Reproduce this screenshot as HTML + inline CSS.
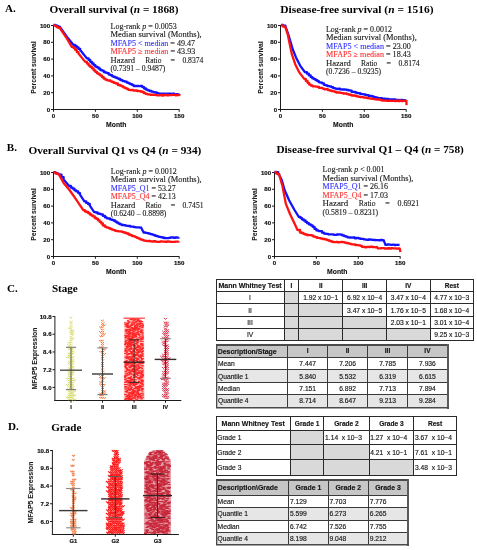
<!DOCTYPE html>
<html><head><meta charset="utf-8"><title>MFAP5 survival figure</title>
<style>
html,body{margin:0;padding:0;background:#fff;}
body{width:477px;height:550px;overflow:hidden;position:relative;font-family:"Liberation Sans", sans-serif;}
svg{position:absolute;left:0;top:0;display:block;will-change:transform;}
</style></head><body>
<svg width="477" height="550" viewBox="0 0 477 550">
<line x1="53.50" y1="25.00" x2="53.50" y2="110.00" stroke="#1c1c1c" stroke-width="1"/>
<line x1="51.00" y1="109.50" x2="53.50" y2="109.50" stroke="#1c1c1c" stroke-width="1"/>
<text x="50.10" y="111.60" font-family="'Liberation Sans', sans-serif" font-size="6.1" font-weight="bold" text-anchor="end" fill="#111" stroke="#111" stroke-width="0.18">0</text>
<line x1="51.00" y1="92.70" x2="53.50" y2="92.70" stroke="#1c1c1c" stroke-width="1"/>
<text x="50.10" y="94.80" font-family="'Liberation Sans', sans-serif" font-size="6.1" font-weight="bold" text-anchor="end" fill="#111" stroke="#111" stroke-width="0.18">20</text>
<line x1="51.00" y1="75.90" x2="53.50" y2="75.90" stroke="#1c1c1c" stroke-width="1"/>
<text x="50.10" y="78.00" font-family="'Liberation Sans', sans-serif" font-size="6.1" font-weight="bold" text-anchor="end" fill="#111" stroke="#111" stroke-width="0.18">40</text>
<line x1="51.00" y1="59.10" x2="53.50" y2="59.10" stroke="#1c1c1c" stroke-width="1"/>
<text x="50.10" y="61.20" font-family="'Liberation Sans', sans-serif" font-size="6.1" font-weight="bold" text-anchor="end" fill="#111" stroke="#111" stroke-width="0.18">60</text>
<line x1="51.00" y1="42.30" x2="53.50" y2="42.30" stroke="#1c1c1c" stroke-width="1"/>
<text x="50.10" y="44.40" font-family="'Liberation Sans', sans-serif" font-size="6.1" font-weight="bold" text-anchor="end" fill="#111" stroke="#111" stroke-width="0.18">80</text>
<line x1="51.00" y1="25.50" x2="53.50" y2="25.50" stroke="#1c1c1c" stroke-width="1"/>
<text x="50.10" y="27.60" font-family="'Liberation Sans', sans-serif" font-size="6.1" font-weight="bold" text-anchor="end" fill="#111" stroke="#111" stroke-width="0.18">100</text>
<line x1="53.00" y1="109.50" x2="179.40" y2="109.50" stroke="#1c1c1c" stroke-width="1"/>
<line x1="53.50" y1="109.50" x2="53.50" y2="111.80" stroke="#1c1c1c" stroke-width="1"/>
<text x="53.50" y="118.40" font-family="'Liberation Sans', sans-serif" font-size="6.1" font-weight="bold" text-anchor="middle" fill="#111" stroke="#111" stroke-width="0.18">0</text>
<line x1="95.40" y1="109.50" x2="95.40" y2="111.80" stroke="#1c1c1c" stroke-width="1"/>
<text x="95.40" y="118.40" font-family="'Liberation Sans', sans-serif" font-size="6.1" font-weight="bold" text-anchor="middle" fill="#111" stroke="#111" stroke-width="0.18">50</text>
<line x1="137.30" y1="109.50" x2="137.30" y2="111.80" stroke="#1c1c1c" stroke-width="1"/>
<text x="137.30" y="118.40" font-family="'Liberation Sans', sans-serif" font-size="6.1" font-weight="bold" text-anchor="middle" fill="#111" stroke="#111" stroke-width="0.18">100</text>
<line x1="179.20" y1="109.50" x2="179.20" y2="111.80" stroke="#1c1c1c" stroke-width="1"/>
<text x="179.20" y="118.40" font-family="'Liberation Sans', sans-serif" font-size="6.1" font-weight="bold" text-anchor="middle" fill="#111" stroke="#111" stroke-width="0.18">150</text>
<text x="116.30" y="127.30" font-family="'Liberation Sans', sans-serif" font-size="6.8" font-weight="bold" text-anchor="middle" fill="#111" stroke="#111" stroke-width="0.12">Month</text>
<text x="36.40" y="67.50" font-family="'Liberation Sans', sans-serif" font-size="6.8" font-weight="bold" text-anchor="middle" fill="#1a1a1a" stroke="#1a1a1a" stroke-width="0.08" transform="rotate(-90 36.40 67.50)">Percent survival</text>
<polyline points="53.5,25.0 55.1,25.0 55.1,25.5 56.8,25.5 56.8,26.2 58.4,26.2 58.4,27.0 60.0,27.0 60.0,27.3 66.8,36.6 73.5,45.0 75.2,45.0 75.2,46.2 76.8,46.2 76.8,47.5 78.5,47.5 78.5,48.8 80.2,48.8 80.2,50.0 86.9,58.4 88.6,58.4 88.6,59.9 90.2,59.9 90.2,61.8 91.9,61.8 91.9,63.5 93.6,63.5 93.6,65.1 95.3,65.1 95.3,66.6 96.9,66.6 96.9,67.3 98.6,67.3 98.6,68.7 100.3,68.7 100.3,70.1 102.0,70.1 102.0,70.6 103.7,70.6 103.7,72.0 105.3,72.0 105.3,72.7 107.0,72.7 107.0,73.1 108.7,73.1 108.7,74.6 110.4,74.6 110.4,75.1 112.1,75.1 112.1,76.3 113.7,76.3 113.7,76.9 115.4,76.9 115.4,77.7 117.1,77.7 117.1,78.3 118.7,78.3 118.7,79.0 120.4,79.0 120.4,80.2 122.5,80.2 122.5,81.1 124.7,81.1 124.7,81.6 126.8,81.6 126.8,82.7 128.5,82.7 128.5,83.3 130.2,83.3 130.2,84.2 131.9,84.2 131.9,84.9 133.6,84.9 133.6,86.1 135.3,86.1 135.3,86.0 137.0,86.0 137.0,86.0 138.7,86.0 138.7,86.2 140.4,86.2 140.4,85.9 142.2,85.9 142.2,87.1 144.1,87.1 144.1,88.5 145.9,88.5 145.9,89.6 147.7,89.6 147.7,90.3 149.5,90.3 149.5,91.0 151.3,91.0 151.3,91.6 153.1,91.6 153.1,92.1 155.0,92.1 155.0,92.5 156.8,92.5 156.8,93.2 158.5,93.2 158.5,93.6 160.2,93.6 160.2,93.7 161.9,93.7 161.9,93.7 163.6,93.7 163.6,93.6 165.4,93.6 165.4,93.8 167.1,93.8 167.1,93.6 168.9,93.6 168.9,93.6 170.7,93.6 170.7,93.8 172.4,93.8 172.4,93.7 174.2,93.7 174.2,94.3 176.0,94.3 176.0,94.1 177.7,94.1 177.7,94.5 179.5,94.5 179.5,94.3" fill="none" stroke="#1212ff" stroke-width="2.3" stroke-linejoin="round" stroke-linecap="butt"/>
<polyline points="53.5,25.4 55.1,25.4 55.1,26.1 56.8,26.1 56.8,27.2 58.4,27.2 58.4,27.9 60.0,27.9 60.0,28.4 66.8,38.4 71.8,46.8 73.5,46.8 73.5,48.1 75.2,48.1 75.2,49.9 76.8,49.9 76.8,52.1 78.5,52.1 78.5,53.5 85.2,61.9 86.9,61.9 86.9,63.6 88.6,63.6 88.6,65.6 90.2,65.6 90.2,66.9 91.9,66.9 91.9,68.3 93.6,68.3 93.6,70.3 95.3,70.3 95.3,71.8 97.0,71.8 97.0,73.3 98.7,73.3 98.7,74.3 100.3,74.3 100.3,75.6 102.0,75.6 102.0,77.2 103.7,77.2 103.7,78.7 105.4,78.7 105.4,79.7 107.0,79.7 107.0,80.3 108.7,80.3 108.7,80.5 110.4,80.5 110.4,81.3 112.0,81.3 112.0,81.9 113.7,81.9 113.7,82.9 115.8,82.9 115.8,83.5 117.9,83.5 117.9,85.0 120.0,85.0 120.0,85.7 121.6,85.7 121.6,86.3 123.3,86.3 123.3,87.4 124.9,87.4 124.9,88.1 126.6,88.1 126.6,88.8 128.2,88.8 128.2,89.8 129.9,89.8 129.9,90.2 131.7,90.2 131.7,90.0 133.4,90.0 133.4,90.6 135.2,90.6 135.2,90.5 136.9,90.5 136.9,91.0 138.7,91.0 138.7,91.1 140.4,91.1 140.4,91.5 142.1,91.5 142.1,92.0 143.8,92.0 143.8,93.2 145.5,93.2 145.5,93.8 147.2,93.8 147.2,94.3 148.8,94.3 148.8,94.3 150.5,94.3 150.5,94.9 152.1,94.9 152.1,94.6 153.8,94.6 153.8,94.9 155.4,94.9 155.4,95.2 157.1,95.2 157.1,95.4 158.7,95.4 158.7,95.3 160.4,95.3 160.4,94.9 162.0,94.9 162.0,95.5 163.7,95.5 163.7,95.0 165.3,95.0 165.3,95.0 167.0,95.0 167.0,95.4 168.7,95.4 168.7,95.1 170.3,95.1 170.3,95.1 172.0,95.1 172.0,94.9 173.6,94.9 173.6,94.9 175.3,94.9 175.3,95.3 176.9,95.3 176.9,95.0 178.6,95.0 178.6,95.2 179.5,95.2 179.5,95.6" fill="none" stroke="#ff1212" stroke-width="2.3" stroke-linejoin="round" stroke-linecap="butt"/>
<text x="110.50" y="28.60" font-family="'Liberation Serif', serif" font-size="7.9" stroke-width="0.12" textLength="66.30" lengthAdjust="spacingAndGlyphs"><tspan fill="#1a1a1a" stroke="#1a1a1a">Log-rank </tspan><tspan fill="#1a1a1a" stroke="#1a1a1a" font-style="italic">p</tspan><tspan fill="#1a1a1a" stroke="#1a1a1a"> = 0.0053</tspan></text>
<text x="110.50" y="37.20" font-family="'Liberation Serif', serif" font-size="7.9" stroke-width="0.12" textLength="91.10" lengthAdjust="spacingAndGlyphs"><tspan fill="#1a1a1a" stroke="#1a1a1a">Median survival (Months),</tspan></text>
<text x="110.50" y="45.80" font-family="'Liberation Serif', serif" font-size="7.9" stroke-width="0.12" textLength="84.60" lengthAdjust="spacingAndGlyphs"><tspan fill="#3535ff" stroke="#3535ff">MFAP5 &lt; median</tspan><tspan fill="#1a1a1a" stroke="#1a1a1a"> = 49.47</tspan></text>
<text x="110.50" y="54.30" font-family="'Liberation Serif', serif" font-size="7.9" stroke-width="0.12" textLength="84.80" lengthAdjust="spacingAndGlyphs"><tspan fill="#ff3535" stroke="#ff3535">MFAP5 ≥ median</tspan><tspan fill="#1a1a1a" stroke="#1a1a1a"> = 43.93</tspan></text>
<text x="110.50" y="62.80" font-family="'Liberation Serif', serif" font-size="7.9" fill="#1a1a1a" stroke="#1a1a1a" stroke-width="0.12" textLength="24.62" lengthAdjust="spacingAndGlyphs">Hazard</text>
<text x="145.24" y="62.80" font-family="'Liberation Serif', serif" font-size="7.9" fill="#1a1a1a" stroke="#1a1a1a" stroke-width="0.12" textLength="16.16" lengthAdjust="spacingAndGlyphs">Ratio</text>
<text x="172.74" y="62.80" font-family="'Liberation Serif', serif" font-size="7.9" font-weight="normal" text-anchor="middle" fill="#1a1a1a" stroke="#1a1a1a" stroke-width="0.12">=</text>
<text x="182.40" y="62.80" font-family="'Liberation Serif', serif" font-size="7.9" fill="#1a1a1a" stroke="#1a1a1a" stroke-width="0.12" textLength="21.00" lengthAdjust="spacingAndGlyphs">0.8374</text>
<text x="110.50" y="71.30" font-family="'Liberation Serif', serif" font-size="7.9" stroke-width="0.12" textLength="54.80" lengthAdjust="spacingAndGlyphs"><tspan fill="#1a1a1a" stroke="#1a1a1a">(0.7391 – 0.9487)</tspan></text>
<line x1="280.50" y1="25.00" x2="280.50" y2="110.00" stroke="#1c1c1c" stroke-width="1"/>
<line x1="278.00" y1="109.50" x2="280.50" y2="109.50" stroke="#1c1c1c" stroke-width="1"/>
<text x="277.10" y="111.60" font-family="'Liberation Sans', sans-serif" font-size="6.1" font-weight="bold" text-anchor="end" fill="#111" stroke="#111" stroke-width="0.18">0</text>
<line x1="278.00" y1="92.70" x2="280.50" y2="92.70" stroke="#1c1c1c" stroke-width="1"/>
<text x="277.10" y="94.80" font-family="'Liberation Sans', sans-serif" font-size="6.1" font-weight="bold" text-anchor="end" fill="#111" stroke="#111" stroke-width="0.18">20</text>
<line x1="278.00" y1="75.90" x2="280.50" y2="75.90" stroke="#1c1c1c" stroke-width="1"/>
<text x="277.10" y="78.00" font-family="'Liberation Sans', sans-serif" font-size="6.1" font-weight="bold" text-anchor="end" fill="#111" stroke="#111" stroke-width="0.18">40</text>
<line x1="278.00" y1="59.10" x2="280.50" y2="59.10" stroke="#1c1c1c" stroke-width="1"/>
<text x="277.10" y="61.20" font-family="'Liberation Sans', sans-serif" font-size="6.1" font-weight="bold" text-anchor="end" fill="#111" stroke="#111" stroke-width="0.18">60</text>
<line x1="278.00" y1="42.30" x2="280.50" y2="42.30" stroke="#1c1c1c" stroke-width="1"/>
<text x="277.10" y="44.40" font-family="'Liberation Sans', sans-serif" font-size="6.1" font-weight="bold" text-anchor="end" fill="#111" stroke="#111" stroke-width="0.18">80</text>
<line x1="278.00" y1="25.50" x2="280.50" y2="25.50" stroke="#1c1c1c" stroke-width="1"/>
<text x="277.10" y="27.60" font-family="'Liberation Sans', sans-serif" font-size="6.1" font-weight="bold" text-anchor="end" fill="#111" stroke="#111" stroke-width="0.18">100</text>
<line x1="280.00" y1="109.50" x2="406.40" y2="109.50" stroke="#1c1c1c" stroke-width="1"/>
<line x1="280.50" y1="109.50" x2="280.50" y2="111.80" stroke="#1c1c1c" stroke-width="1"/>
<text x="280.50" y="118.40" font-family="'Liberation Sans', sans-serif" font-size="6.1" font-weight="bold" text-anchor="middle" fill="#111" stroke="#111" stroke-width="0.18">0</text>
<line x1="322.40" y1="109.50" x2="322.40" y2="111.80" stroke="#1c1c1c" stroke-width="1"/>
<text x="322.40" y="118.40" font-family="'Liberation Sans', sans-serif" font-size="6.1" font-weight="bold" text-anchor="middle" fill="#111" stroke="#111" stroke-width="0.18">50</text>
<line x1="364.30" y1="109.50" x2="364.30" y2="111.80" stroke="#1c1c1c" stroke-width="1"/>
<text x="364.30" y="118.40" font-family="'Liberation Sans', sans-serif" font-size="6.1" font-weight="bold" text-anchor="middle" fill="#111" stroke="#111" stroke-width="0.18">100</text>
<line x1="406.20" y1="109.50" x2="406.20" y2="111.80" stroke="#1c1c1c" stroke-width="1"/>
<text x="406.20" y="118.40" font-family="'Liberation Sans', sans-serif" font-size="6.1" font-weight="bold" text-anchor="middle" fill="#111" stroke="#111" stroke-width="0.18">150</text>
<text x="343.30" y="127.30" font-family="'Liberation Sans', sans-serif" font-size="6.8" font-weight="bold" text-anchor="middle" fill="#111" stroke="#111" stroke-width="0.12">Month</text>
<text x="263.40" y="67.50" font-family="'Liberation Sans', sans-serif" font-size="6.8" font-weight="bold" text-anchor="middle" fill="#1a1a1a" stroke="#1a1a1a" stroke-width="0.08" transform="rotate(-90 263.40 67.50)">Percent survival</text>
<polyline points="280.9,25.0 283.1,25.0 283.1,25.7 285.4,25.7 285.4,26.3 287.8,32.9 290.3,41.1 292.7,49.3 296.0,57.4 300.1,65.6 305.0,72.2 306.9,72.2 306.9,73.7 308.8,73.7 308.8,75.4 310.7,75.4 310.7,77.1 312.4,77.1 312.4,78.4 314.0,78.4 314.0,79.1 315.6,79.1 315.6,80.2 317.3,80.2 317.3,81.2 318.9,81.2 318.9,82.3 320.6,82.3 320.6,82.6 322.2,82.6 322.2,83.4 323.9,83.4 323.9,84.8 325.5,84.8 325.5,85.3 327.4,85.3 327.4,86.2 329.3,86.2 329.3,86.4 331.2,86.4 331.2,87.1 333.1,87.1 333.1,88.1 335.0,88.1 335.0,88.6 336.7,88.6 336.7,89.1 338.3,89.1 338.3,88.7 340.0,88.7 340.0,89.4 341.7,89.4 341.7,89.5 343.3,89.5 343.3,89.5 345.0,89.5 345.0,89.6 346.7,89.6 346.7,90.0 348.4,90.0 348.4,90.3 350.1,90.3 350.1,90.7 351.7,90.7 351.7,91.9 353.4,91.9 353.4,91.8 355.1,91.8 355.1,92.5 356.8,92.5 356.8,93.1 358.5,93.1 358.5,93.2 360.1,93.2 360.1,94.0 361.8,94.0 361.8,94.2 363.5,94.2 363.5,94.4 365.2,94.4 365.2,95.0 366.9,95.0 366.9,95.2 368.6,95.2 368.6,96.0 370.2,96.0 370.2,95.9 371.9,95.9 371.9,96.5 373.6,96.5 373.6,97.1 375.3,97.1 375.3,97.5 377.0,97.5 377.0,98.0 378.6,98.0 378.6,98.1 380.3,98.1 380.3,98.2 382.0,98.2 382.0,98.9 383.6,98.9 383.6,98.7 385.3,98.7 385.3,99.2 387.0,99.2 387.0,99.0 388.6,99.0 388.6,99.3 390.3,99.3 390.3,99.5 392.0,99.5 392.0,99.3 393.7,99.3 393.7,99.5 395.3,99.5 395.3,99.8 397.0,99.8 397.0,100.0 398.9,100.0 398.9,100.1 400.7,100.1 400.7,99.9 402.6,99.9 402.6,100.1 404.4,100.1 404.4,100.5 406.3,100.5 406.3,100.3" fill="none" stroke="#1212ff" stroke-width="2.3" stroke-linejoin="round" stroke-linecap="butt"/>
<polyline points="280.9,25.4 283.1,25.4 283.1,26.7 285.4,26.7 285.4,27.4 287.8,34.7 289.8,44.5 291.9,54.4 295.2,64.2 299.3,72.4 304.2,78.9 305.8,78.9 305.8,80.9 307.5,80.9 307.5,82.8 309.1,82.8 309.1,84.6 310.8,84.6 310.8,85.5 312.4,85.5 312.4,86.3 314.0,86.3 314.0,86.4 315.7,86.4 315.7,86.6 317.3,86.6 317.3,86.9 319.0,86.9 319.0,87.9 320.6,87.9 320.6,87.9 322.4,87.9 322.4,88.6 324.2,88.6 324.2,89.3 326.0,89.3 326.0,89.1 327.8,89.1 327.8,90.1 329.6,90.1 329.6,90.5 331.4,90.5 331.4,91.2 333.2,91.2 333.2,91.4 335.0,91.4 335.0,92.1 336.7,92.1 336.7,92.7 338.3,92.7 338.3,92.3 340.0,92.3 340.0,92.8 341.7,92.8 341.7,93.2 343.3,93.2 343.3,93.5 345.0,93.5 345.0,93.5 346.7,93.5 346.7,94.1 348.4,94.1 348.4,94.5 350.1,94.5 350.1,95.0 351.7,95.0 351.7,95.5 353.4,95.5 353.4,95.5 355.1,95.5 355.1,96.0 356.8,96.0 356.8,96.4 358.5,96.4 358.5,96.8 360.1,96.8 360.1,97.1 361.8,97.1 361.8,97.1 363.5,97.1 363.5,97.6 365.2,97.6 365.2,97.7 366.9,97.7 366.9,98.2 368.6,98.2 368.6,98.3 370.2,98.3 370.2,98.6 371.9,98.6 371.9,98.8 373.6,98.8 373.6,99.2 375.3,99.2 375.3,99.4 377.0,99.4 377.0,99.7 378.6,99.7 378.6,99.5 380.3,99.5 380.3,100.1 382.0,100.1 382.0,100.6 383.6,100.6 383.6,100.7 385.3,100.7 385.3,100.7 386.9,100.7 386.9,100.9 388.5,100.9 388.5,100.7 390.1,100.7 390.1,100.9 391.8,100.9 391.8,100.8 393.4,100.8 393.4,100.8 395.0,100.8 395.0,101.1 396.6,101.1 396.6,100.6 398.2,100.6 398.2,101.1 399.8,101.1 399.8,100.6 401.5,100.6 401.5,101.0 403.1,101.0 403.1,100.9 404.7,100.9 404.7,100.8 406.3,100.8 406.3,101.0 406.6,105.2" fill="none" stroke="#ff1212" stroke-width="2.3" stroke-linejoin="round" stroke-linecap="butt"/>
<text x="326.00" y="31.80" font-family="'Liberation Serif', serif" font-size="7.9" stroke-width="0.12" textLength="66.00" lengthAdjust="spacingAndGlyphs"><tspan fill="#1a1a1a" stroke="#1a1a1a">Log-rank </tspan><tspan fill="#1a1a1a" stroke="#1a1a1a" font-style="italic">p</tspan><tspan fill="#1a1a1a" stroke="#1a1a1a"> = 0.0012</tspan></text>
<text x="326.00" y="40.30" font-family="'Liberation Serif', serif" font-size="7.9" stroke-width="0.12" textLength="90.80" lengthAdjust="spacingAndGlyphs"><tspan fill="#1a1a1a" stroke="#1a1a1a">Median survival (Months),</tspan></text>
<text x="326.00" y="48.80" font-family="'Liberation Serif', serif" font-size="7.9" stroke-width="0.12" textLength="84.90" lengthAdjust="spacingAndGlyphs"><tspan fill="#3535ff" stroke="#3535ff">MFAP5 &lt; median</tspan><tspan fill="#1a1a1a" stroke="#1a1a1a"> = 23.00</tspan></text>
<text x="326.00" y="57.20" font-family="'Liberation Serif', serif" font-size="7.9" stroke-width="0.12" textLength="84.90" lengthAdjust="spacingAndGlyphs"><tspan fill="#ff3535" stroke="#ff3535">MFAP5 ≥ median</tspan><tspan fill="#1a1a1a" stroke="#1a1a1a"> = 18.43</tspan></text>
<text x="326.00" y="65.70" font-family="'Liberation Serif', serif" font-size="7.9" fill="#1a1a1a" stroke="#1a1a1a" stroke-width="0.12" textLength="24.83" lengthAdjust="spacingAndGlyphs">Hazard</text>
<text x="361.04" y="65.70" font-family="'Liberation Serif', serif" font-size="7.9" fill="#1a1a1a" stroke="#1a1a1a" stroke-width="0.12" textLength="16.30" lengthAdjust="spacingAndGlyphs">Ratio</text>
<text x="388.78" y="65.70" font-family="'Liberation Serif', serif" font-size="7.9" font-weight="normal" text-anchor="middle" fill="#1a1a1a" stroke="#1a1a1a" stroke-width="0.12">=</text>
<text x="398.52" y="65.70" font-family="'Liberation Serif', serif" font-size="7.9" fill="#1a1a1a" stroke="#1a1a1a" stroke-width="0.12" textLength="21.18" lengthAdjust="spacingAndGlyphs">0.8174</text>
<text x="326.00" y="74.10" font-family="'Liberation Serif', serif" font-size="7.9" stroke-width="0.12" textLength="55.10" lengthAdjust="spacingAndGlyphs"><tspan fill="#1a1a1a" stroke="#1a1a1a">(0.7236 – 0.9235)</tspan></text>
<line x1="53.50" y1="172.00" x2="53.50" y2="257.00" stroke="#1c1c1c" stroke-width="1"/>
<line x1="51.00" y1="256.50" x2="53.50" y2="256.50" stroke="#1c1c1c" stroke-width="1"/>
<text x="50.10" y="258.60" font-family="'Liberation Sans', sans-serif" font-size="6.1" font-weight="bold" text-anchor="end" fill="#111" stroke="#111" stroke-width="0.18">0</text>
<line x1="51.00" y1="239.70" x2="53.50" y2="239.70" stroke="#1c1c1c" stroke-width="1"/>
<text x="50.10" y="241.80" font-family="'Liberation Sans', sans-serif" font-size="6.1" font-weight="bold" text-anchor="end" fill="#111" stroke="#111" stroke-width="0.18">20</text>
<line x1="51.00" y1="222.90" x2="53.50" y2="222.90" stroke="#1c1c1c" stroke-width="1"/>
<text x="50.10" y="225.00" font-family="'Liberation Sans', sans-serif" font-size="6.1" font-weight="bold" text-anchor="end" fill="#111" stroke="#111" stroke-width="0.18">40</text>
<line x1="51.00" y1="206.10" x2="53.50" y2="206.10" stroke="#1c1c1c" stroke-width="1"/>
<text x="50.10" y="208.20" font-family="'Liberation Sans', sans-serif" font-size="6.1" font-weight="bold" text-anchor="end" fill="#111" stroke="#111" stroke-width="0.18">60</text>
<line x1="51.00" y1="189.30" x2="53.50" y2="189.30" stroke="#1c1c1c" stroke-width="1"/>
<text x="50.10" y="191.40" font-family="'Liberation Sans', sans-serif" font-size="6.1" font-weight="bold" text-anchor="end" fill="#111" stroke="#111" stroke-width="0.18">80</text>
<line x1="51.00" y1="172.50" x2="53.50" y2="172.50" stroke="#1c1c1c" stroke-width="1"/>
<text x="50.10" y="174.60" font-family="'Liberation Sans', sans-serif" font-size="6.1" font-weight="bold" text-anchor="end" fill="#111" stroke="#111" stroke-width="0.18">100</text>
<line x1="53.00" y1="256.50" x2="179.40" y2="256.50" stroke="#1c1c1c" stroke-width="1"/>
<line x1="53.50" y1="256.50" x2="53.50" y2="258.80" stroke="#1c1c1c" stroke-width="1"/>
<text x="53.50" y="265.40" font-family="'Liberation Sans', sans-serif" font-size="6.1" font-weight="bold" text-anchor="middle" fill="#111" stroke="#111" stroke-width="0.18">0</text>
<line x1="95.40" y1="256.50" x2="95.40" y2="258.80" stroke="#1c1c1c" stroke-width="1"/>
<text x="95.40" y="265.40" font-family="'Liberation Sans', sans-serif" font-size="6.1" font-weight="bold" text-anchor="middle" fill="#111" stroke="#111" stroke-width="0.18">50</text>
<line x1="137.30" y1="256.50" x2="137.30" y2="258.80" stroke="#1c1c1c" stroke-width="1"/>
<text x="137.30" y="265.40" font-family="'Liberation Sans', sans-serif" font-size="6.1" font-weight="bold" text-anchor="middle" fill="#111" stroke="#111" stroke-width="0.18">100</text>
<line x1="179.20" y1="256.50" x2="179.20" y2="258.80" stroke="#1c1c1c" stroke-width="1"/>
<text x="179.20" y="265.40" font-family="'Liberation Sans', sans-serif" font-size="6.1" font-weight="bold" text-anchor="middle" fill="#111" stroke="#111" stroke-width="0.18">150</text>
<text x="116.30" y="274.30" font-family="'Liberation Sans', sans-serif" font-size="6.8" font-weight="bold" text-anchor="middle" fill="#111" stroke="#111" stroke-width="0.12">Month</text>
<text x="36.40" y="214.50" font-family="'Liberation Sans', sans-serif" font-size="6.8" font-weight="bold" text-anchor="middle" fill="#1a1a1a" stroke="#1a1a1a" stroke-width="0.08" transform="rotate(-90 36.40 214.50)">Percent survival</text>
<polyline points="53.5,172.2 55.4,172.2 55.4,173.1 57.4,173.1 57.4,173.8 59.3,173.8 59.3,174.6 61.5,174.6 61.5,177.1 63.6,177.1 63.6,179.4 69.1,186.0 70.9,186.0 70.9,187.7 72.7,187.7 72.7,188.7 74.5,188.7 74.5,190.3 76.3,190.3 76.3,191.4 78.2,191.4 78.2,193.1 80.0,193.1 80.0,194.7 84.4,201.3 86.2,201.3 86.2,202.9 88.0,202.9 88.0,204.0 89.8,204.0 89.8,205.6 94.2,212.2 95.8,212.2 95.8,212.5 97.5,212.5 97.5,213.5 99.1,213.5 99.1,213.9 100.7,213.9 100.7,214.3 102.8,214.3 102.8,215.8 105.0,215.8 105.0,217.4 106.7,217.4 106.7,218.3 108.3,218.3 108.3,218.5 110.0,218.5 110.0,219.4 111.7,219.4 111.7,219.9 113.4,219.9 113.4,220.5 115.1,220.5 115.1,221.6 116.8,221.6 116.8,222.7 118.4,222.7 118.4,223.6 120.1,223.6 120.1,224.4 121.8,224.4 121.8,225.0 123.5,225.0 123.5,225.2 125.2,225.2 125.2,225.7 126.8,225.7 126.8,225.8 128.5,225.8 128.5,226.0 130.2,226.0 130.2,226.6 132.0,226.6 132.0,226.7 133.8,226.7 133.8,227.1 135.6,227.1 135.6,227.3 137.5,227.3 137.5,227.3 139.3,227.3 139.3,227.7 141.1,227.7 141.1,227.5 143.6,232.5 145.3,232.5 145.3,232.8 146.9,232.8 146.9,233.1 148.6,233.1 148.6,233.7 150.3,233.7 150.3,234.2 152.0,234.2 152.0,234.6 153.6,234.6 153.6,235.1 155.3,235.1 155.3,235.9 157.0,235.9 157.0,236.3 158.7,236.3 158.7,236.8 160.3,236.8 160.3,237.2 162.0,237.2 162.0,237.5 163.7,237.5 163.7,238.0 165.4,238.0 165.4,238.2 167.1,238.2 167.1,238.2 168.7,238.2 168.7,237.8 170.4,237.8 170.4,237.5 172.1,237.5 172.1,237.4 173.8,237.4 173.8,237.9 175.4,237.9 175.4,237.3 177.1,237.3 177.1,237.7 178.8,237.7 178.8,237.5" fill="none" stroke="#1212ff" stroke-width="2.3" stroke-linejoin="round" stroke-linecap="butt"/>
<polyline points="53.5,172.4 55.4,172.4 55.4,173.4 57.4,173.4 57.4,174.2 59.3,174.2 59.3,175.3 63.6,182.9 69.1,189.5 74.5,197.1 78.9,203.6 83.3,210.2 84.9,210.2 84.9,211.5 86.5,211.5 86.5,212.0 88.2,212.0 88.2,213.2 89.8,213.2 89.8,214.5 91.5,214.5 91.5,215.6 93.1,215.6 93.1,216.4 94.8,216.4 94.8,218.0 96.4,218.0 96.4,218.9 98.0,218.9 98.0,220.4 99.7,220.4 99.7,221.9 101.3,221.9 101.3,223.5 102.9,223.5 102.9,225.5 105.0,225.5 105.0,226.8 106.7,226.8 106.7,227.6 108.4,227.6 108.4,228.1 110.0,228.1 110.0,228.9 111.7,228.9 111.7,229.6 113.4,229.6 113.4,230.2 115.1,230.2 115.1,230.8 116.8,230.8 116.8,231.2 118.4,231.2 118.4,231.3 120.1,231.3 120.1,231.3 121.8,231.3 121.8,231.9 123.5,231.9 123.5,232.5 125.2,232.5 125.2,233.0 126.8,233.0 126.8,233.5 128.5,233.5 128.5,234.5 130.2,234.5 130.2,235.2 131.9,235.2 131.9,236.0 133.5,236.0 133.5,236.3 135.2,236.3 135.2,237.1 136.8,237.1 136.8,237.8 138.5,237.8 138.5,238.6 140.2,238.6 140.2,239.4 141.9,239.4 141.9,239.9 143.6,239.9 143.6,240.6 145.3,240.6 145.3,240.8 146.9,240.8 146.9,241.1 148.6,241.1 148.6,241.0 150.3,241.0 150.3,241.4 152.0,241.4 152.0,241.6 153.6,241.6 153.6,241.2 155.3,241.2 155.3,241.6 157.0,241.6 157.0,241.9 158.7,241.9 158.7,241.8 160.3,241.8 160.3,241.3 162.0,241.3 162.0,241.6 163.7,241.6 163.7,241.7 165.4,241.7 165.4,241.9 167.1,241.9 167.1,241.5 168.7,241.5 168.7,241.6 170.4,241.6 170.4,241.9 172.1,241.9 172.1,241.8 173.8,241.8 173.8,241.9 175.4,241.9 175.4,241.6 177.1,241.6 177.1,241.7 178.8,241.7 178.8,241.6" fill="none" stroke="#ff1212" stroke-width="2.3" stroke-linejoin="round" stroke-linecap="butt"/>
<text x="110.80" y="173.80" font-family="'Liberation Serif', serif" font-size="7.9" stroke-width="0.12" textLength="66.00" lengthAdjust="spacingAndGlyphs"><tspan fill="#1a1a1a" stroke="#1a1a1a">Log-rank </tspan><tspan fill="#1a1a1a" stroke="#1a1a1a" font-style="italic">p</tspan><tspan fill="#1a1a1a" stroke="#1a1a1a"> = 0.0012</tspan></text>
<text x="110.80" y="182.40" font-family="'Liberation Serif', serif" font-size="7.9" stroke-width="0.12" textLength="90.80" lengthAdjust="spacingAndGlyphs"><tspan fill="#1a1a1a" stroke="#1a1a1a">Median survival (Months),</tspan></text>
<text x="110.80" y="191.00" font-family="'Liberation Serif', serif" font-size="7.9" stroke-width="0.12" textLength="65.00" lengthAdjust="spacingAndGlyphs"><tspan fill="#3535ff" stroke="#3535ff">MFAP5_Q1</tspan><tspan fill="#1a1a1a" stroke="#1a1a1a"> = 53.27</tspan></text>
<text x="110.80" y="199.40" font-family="'Liberation Serif', serif" font-size="7.9" stroke-width="0.12" textLength="65.00" lengthAdjust="spacingAndGlyphs"><tspan fill="#ff3535" stroke="#ff3535">MFAP5_Q4</tspan><tspan fill="#1a1a1a" stroke="#1a1a1a"> = 42.13</tspan></text>
<text x="110.80" y="207.90" font-family="'Liberation Serif', serif" font-size="7.9" fill="#1a1a1a" stroke="#1a1a1a" stroke-width="0.12" textLength="24.57" lengthAdjust="spacingAndGlyphs">Hazard</text>
<text x="145.47" y="207.90" font-family="'Liberation Serif', serif" font-size="7.9" fill="#1a1a1a" stroke="#1a1a1a" stroke-width="0.12" textLength="16.13" lengthAdjust="spacingAndGlyphs">Ratio</text>
<text x="172.91" y="207.90" font-family="'Liberation Serif', serif" font-size="7.9" font-weight="normal" text-anchor="middle" fill="#1a1a1a" stroke="#1a1a1a" stroke-width="0.12">=</text>
<text x="182.55" y="207.90" font-family="'Liberation Serif', serif" font-size="7.9" fill="#1a1a1a" stroke="#1a1a1a" stroke-width="0.12" textLength="20.95" lengthAdjust="spacingAndGlyphs">0.7451</text>
<text x="110.80" y="216.40" font-family="'Liberation Serif', serif" font-size="7.9" stroke-width="0.12" textLength="55.60" lengthAdjust="spacingAndGlyphs"><tspan fill="#1a1a1a" stroke="#1a1a1a">(0.6240 – 0.8898)</tspan></text>
<line x1="274.50" y1="172.00" x2="274.50" y2="257.00" stroke="#1c1c1c" stroke-width="1"/>
<line x1="272.00" y1="256.50" x2="274.50" y2="256.50" stroke="#1c1c1c" stroke-width="1"/>
<text x="271.10" y="258.60" font-family="'Liberation Sans', sans-serif" font-size="6.1" font-weight="bold" text-anchor="end" fill="#111" stroke="#111" stroke-width="0.18">0</text>
<line x1="272.00" y1="239.70" x2="274.50" y2="239.70" stroke="#1c1c1c" stroke-width="1"/>
<text x="271.10" y="241.80" font-family="'Liberation Sans', sans-serif" font-size="6.1" font-weight="bold" text-anchor="end" fill="#111" stroke="#111" stroke-width="0.18">20</text>
<line x1="272.00" y1="222.90" x2="274.50" y2="222.90" stroke="#1c1c1c" stroke-width="1"/>
<text x="271.10" y="225.00" font-family="'Liberation Sans', sans-serif" font-size="6.1" font-weight="bold" text-anchor="end" fill="#111" stroke="#111" stroke-width="0.18">40</text>
<line x1="272.00" y1="206.10" x2="274.50" y2="206.10" stroke="#1c1c1c" stroke-width="1"/>
<text x="271.10" y="208.20" font-family="'Liberation Sans', sans-serif" font-size="6.1" font-weight="bold" text-anchor="end" fill="#111" stroke="#111" stroke-width="0.18">60</text>
<line x1="272.00" y1="189.30" x2="274.50" y2="189.30" stroke="#1c1c1c" stroke-width="1"/>
<text x="271.10" y="191.40" font-family="'Liberation Sans', sans-serif" font-size="6.1" font-weight="bold" text-anchor="end" fill="#111" stroke="#111" stroke-width="0.18">80</text>
<line x1="272.00" y1="172.50" x2="274.50" y2="172.50" stroke="#1c1c1c" stroke-width="1"/>
<text x="271.10" y="174.60" font-family="'Liberation Sans', sans-serif" font-size="6.1" font-weight="bold" text-anchor="end" fill="#111" stroke="#111" stroke-width="0.18">100</text>
<line x1="274.00" y1="256.50" x2="400.40" y2="256.50" stroke="#1c1c1c" stroke-width="1"/>
<line x1="274.50" y1="256.50" x2="274.50" y2="258.80" stroke="#1c1c1c" stroke-width="1"/>
<text x="274.50" y="265.40" font-family="'Liberation Sans', sans-serif" font-size="6.1" font-weight="bold" text-anchor="middle" fill="#111" stroke="#111" stroke-width="0.18">0</text>
<line x1="316.40" y1="256.50" x2="316.40" y2="258.80" stroke="#1c1c1c" stroke-width="1"/>
<text x="316.40" y="265.40" font-family="'Liberation Sans', sans-serif" font-size="6.1" font-weight="bold" text-anchor="middle" fill="#111" stroke="#111" stroke-width="0.18">50</text>
<line x1="358.30" y1="256.50" x2="358.30" y2="258.80" stroke="#1c1c1c" stroke-width="1"/>
<text x="358.30" y="265.40" font-family="'Liberation Sans', sans-serif" font-size="6.1" font-weight="bold" text-anchor="middle" fill="#111" stroke="#111" stroke-width="0.18">100</text>
<line x1="400.20" y1="256.50" x2="400.20" y2="258.80" stroke="#1c1c1c" stroke-width="1"/>
<text x="400.20" y="265.40" font-family="'Liberation Sans', sans-serif" font-size="6.1" font-weight="bold" text-anchor="middle" fill="#111" stroke="#111" stroke-width="0.18">150</text>
<text x="337.30" y="274.30" font-family="'Liberation Sans', sans-serif" font-size="6.8" font-weight="bold" text-anchor="middle" fill="#111" stroke="#111" stroke-width="0.12">Month</text>
<text x="257.40" y="214.50" font-family="'Liberation Sans', sans-serif" font-size="6.8" font-weight="bold" text-anchor="middle" fill="#1a1a1a" stroke="#1a1a1a" stroke-width="0.08" transform="rotate(-90 257.40 214.50)">Percent survival</text>
<polyline points="274.5,172.0 276.4,172.0 276.4,172.2 278.2,172.2 278.2,172.9 281.5,179.4 284.7,190.3 289.1,200.2 294.5,210.0 298.8,216.8 300.5,216.8 300.5,218.2 302.1,218.2 302.1,219.5 303.8,219.5 303.8,220.5 305.5,220.5 305.5,221.9 307.1,221.9 307.1,223.2 308.8,223.2 308.8,224.3 310.7,224.3 310.7,225.3 312.6,225.3 312.6,226.8 314.5,226.8 314.5,228.9 316.4,228.9 316.4,230.4 318.3,230.4 318.3,231.1 320.2,231.1 320.2,231.2 322.0,231.2 322.0,232.7 323.9,232.7 323.9,233.6 326.0,233.6 326.0,233.9 328.1,233.9 328.1,234.3 330.2,234.3 330.2,234.4 331.9,234.4 331.9,234.3 333.6,234.3 333.6,234.8 335.2,234.8 335.2,234.8 336.9,234.8 336.9,234.5 338.6,234.5 338.6,234.4 340.3,234.4 340.3,234.7 342.2,234.7 342.2,235.4 344.1,235.4 344.1,236.2 345.8,236.2 345.8,236.7 347.4,236.7 347.4,237.3 349.1,237.3 349.1,237.5 351.0,237.5 351.0,237.7 352.9,237.7 352.9,237.5 354.7,237.5 354.7,238.3 356.6,238.3 356.6,237.9 358.5,237.9 358.5,238.4 360.2,238.4 360.2,238.9 361.9,238.9 361.9,238.8 363.6,238.8 363.6,239.3 365.3,239.3 365.3,239.7 367.0,239.7 367.0,239.9 368.6,239.9 368.6,239.5 370.3,239.5 370.3,239.6 372.0,239.6 372.0,239.9 373.7,239.9 373.7,240.0 375.3,240.0 375.3,240.2 377.0,240.2 377.0,240.1 378.7,240.1 378.7,240.3 380.4,240.3 380.4,240.0 382.0,240.0 382.0,240.4 383.7,240.4 383.7,240.1 385.4,244.8 387.2,244.8 387.2,244.5 388.9,244.5 388.9,244.6 390.7,244.6 390.7,244.8 392.5,244.8 392.5,244.7 394.3,244.7 394.3,245.0 396.1,245.0 396.1,244.9 397.8,244.9 397.8,244.8 399.6,244.8 399.6,244.8" fill="none" stroke="#1212ff" stroke-width="2.3" stroke-linejoin="round" stroke-linecap="butt"/>
<polyline points="274.5,172.2 276.1,172.2 276.1,173.5 277.7,173.5 277.7,174.3 279.3,174.3 279.3,175.3 282.5,186.2 285.8,203.6 290.2,214.5 295.0,224.5 297.5,230.0 300.0,230.0 300.0,232.5 301.7,232.5 301.7,233.0 303.3,233.0 303.3,233.8 305.0,233.8 305.0,234.5 306.7,234.5 306.7,235.0 308.4,235.0 308.4,235.2 310.1,235.2 310.1,235.2 311.8,235.2 311.8,235.6 313.4,235.6 313.4,236.7 315.1,236.7 315.1,237.1 317.0,237.1 317.0,237.9 318.9,237.9 318.9,238.1 320.8,238.1 320.8,238.6 322.7,238.6 322.7,239.0 324.8,239.0 324.8,239.4 326.9,239.4 326.9,240.2 329.0,240.2 329.0,240.8 330.9,240.8 330.9,241.5 332.7,241.5 332.7,242.1 334.4,242.1 334.4,242.2 336.1,242.2 336.1,241.8 337.8,241.8 337.8,242.4 339.4,242.4 339.4,242.1 341.1,242.1 341.1,242.0 342.8,242.0 342.8,242.1 344.5,242.1 344.5,242.7 346.1,242.7 346.1,243.0 347.8,243.0 347.8,243.4 349.6,243.4 349.6,243.8 351.4,243.8 351.4,244.3 353.2,244.3 353.2,244.3 355.0,244.3 355.0,245.0 356.8,245.0 356.8,245.2 358.5,245.2 358.5,245.3 360.2,245.3 360.2,245.8 361.9,245.8 361.9,246.8 363.6,246.8 363.6,247.0 365.3,247.0 365.3,247.3 367.0,247.3 367.0,246.8 368.6,246.8 368.6,247.0 370.3,247.0 370.3,246.7 372.0,246.7 372.0,247.0 373.6,247.0 373.6,247.2 375.3,247.2 375.3,247.3 377.0,247.3 377.0,247.0 377.8,248.3 379.5,248.3 379.5,248.3 381.2,248.3 381.2,248.2 382.8,248.2 382.8,248.2 384.5,248.2 384.5,248.5 386.2,248.5 386.2,248.7 387.9,248.7 387.9,248.2 389.5,248.2 389.5,248.7 391.2,248.7 391.2,248.2 392.9,248.2 392.9,248.3 394.6,248.3 394.6,248.3 396.2,248.3 396.2,248.7 397.9,248.7 397.9,248.5 399.6,248.5 399.6,248.6 400.5,252.0" fill="none" stroke="#ff1212" stroke-width="2.3" stroke-linejoin="round" stroke-linecap="butt"/>
<text x="322.60" y="172.10" font-family="'Liberation Serif', serif" font-size="7.9" stroke-width="0.12" textLength="61.90" lengthAdjust="spacingAndGlyphs"><tspan fill="#1a1a1a" stroke="#1a1a1a">Log-rank </tspan><tspan fill="#1a1a1a" stroke="#1a1a1a" font-style="italic">p</tspan><tspan fill="#1a1a1a" stroke="#1a1a1a"> &lt; 0.001</tspan></text>
<text x="322.60" y="180.50" font-family="'Liberation Serif', serif" font-size="7.9" stroke-width="0.12" textLength="90.80" lengthAdjust="spacingAndGlyphs"><tspan fill="#1a1a1a" stroke="#1a1a1a">Median survival (Months),</tspan></text>
<text x="322.60" y="189.10" font-family="'Liberation Serif', serif" font-size="7.9" stroke-width="0.12" textLength="65.40" lengthAdjust="spacingAndGlyphs"><tspan fill="#3535ff" stroke="#3535ff">MFAP5_Q1</tspan><tspan fill="#1a1a1a" stroke="#1a1a1a"> = 26.16</tspan></text>
<text x="322.60" y="197.60" font-family="'Liberation Serif', serif" font-size="7.9" stroke-width="0.12" textLength="65.40" lengthAdjust="spacingAndGlyphs"><tspan fill="#ff3535" stroke="#ff3535">MFAP5_Q4</tspan><tspan fill="#1a1a1a" stroke="#1a1a1a"> = 17.03</tspan></text>
<text x="322.60" y="206.10" font-family="'Liberation Serif', serif" font-size="7.9" fill="#1a1a1a" stroke="#1a1a1a" stroke-width="0.12" textLength="25.63" lengthAdjust="spacingAndGlyphs">Hazard</text>
<text x="358.77" y="206.10" font-family="'Liberation Serif', serif" font-size="7.9" fill="#1a1a1a" stroke="#1a1a1a" stroke-width="0.12" textLength="16.83" lengthAdjust="spacingAndGlyphs">Ratio</text>
<text x="387.39" y="206.10" font-family="'Liberation Serif', serif" font-size="7.9" font-weight="normal" text-anchor="middle" fill="#1a1a1a" stroke="#1a1a1a" stroke-width="0.12">=</text>
<text x="397.45" y="206.10" font-family="'Liberation Serif', serif" font-size="7.9" fill="#1a1a1a" stroke="#1a1a1a" stroke-width="0.12" textLength="21.85" lengthAdjust="spacingAndGlyphs">0.6921</text>
<text x="322.60" y="214.60" font-family="'Liberation Serif', serif" font-size="7.9" stroke-width="0.12" textLength="55.60" lengthAdjust="spacingAndGlyphs"><tspan fill="#1a1a1a" stroke="#1a1a1a">(0.5819 – 0.8231)</tspan></text>
<text x="5.00" y="12.40" font-family="'Liberation Serif', serif" font-size="11.1" font-weight="bold" text-anchor="start" fill="#000" >A.</text>
<text x="49.40" y="12.60" font-family="'Liberation Serif', serif" font-size="11.1" font-weight="bold" text-anchor="start" fill="#000" textLength="129.0" lengthAdjust="spacingAndGlyphs">Overall survival (<tspan font-style="italic">n</tspan> = 1868)</text>
<text x="280.30" y="12.60" font-family="'Liberation Serif', serif" font-size="11.1" font-weight="bold" text-anchor="start" fill="#000" textLength="153.2" lengthAdjust="spacingAndGlyphs">Disease-free survival (<tspan font-style="italic">n</tspan> = 1516)</text>
<text x="6.80" y="151.30" font-family="'Liberation Serif', serif" font-size="11.1" font-weight="bold" text-anchor="start" fill="#000" >B.</text>
<text x="28.40" y="153.80" font-family="'Liberation Serif', serif" font-size="11.1" font-weight="bold" text-anchor="start" fill="#000" textLength="173.0" lengthAdjust="spacingAndGlyphs">Overall Survival Q1 vs Q4 (<tspan font-style="italic">n</tspan> = 934)</text>
<text x="276.40" y="153.10" font-family="'Liberation Serif', serif" font-size="11.1" font-weight="bold" text-anchor="start" fill="#000" textLength="187.4" lengthAdjust="spacingAndGlyphs">Disease-free survival Q1 – Q4 (<tspan font-style="italic">n</tspan> = 758)</text>
<text x="6.90" y="291.80" font-family="'Liberation Serif', serif" font-size="11.1" font-weight="bold" text-anchor="start" fill="#000" >C.</text>
<text x="51.90" y="292.20" font-family="'Liberation Serif', serif" font-size="11.1" font-weight="bold" text-anchor="start" fill="#000" >Stage</text>
<text x="8.00" y="430.30" font-family="'Liberation Serif', serif" font-size="11.1" font-weight="bold" text-anchor="start" fill="#000" >D.</text>
<text x="51.20" y="431.20" font-family="'Liberation Serif', serif" font-size="11.1" font-weight="bold" text-anchor="start" fill="#000" >Grade</text>
<line x1="54.90" y1="316.00" x2="54.90" y2="401.00" stroke="#1c1c1c" stroke-width="1"/>
<line x1="52.50" y1="316.50" x2="54.90" y2="316.50" stroke="#1c1c1c" stroke-width="1"/>
<text x="51.60" y="318.60" font-family="'Liberation Sans', sans-serif" font-size="6.1" font-weight="bold" text-anchor="end" fill="#111" stroke="#111" stroke-width="0.18">10.8</text>
<line x1="52.50" y1="334.23" x2="54.90" y2="334.23" stroke="#1c1c1c" stroke-width="1"/>
<text x="51.60" y="336.33" font-family="'Liberation Sans', sans-serif" font-size="6.1" font-weight="bold" text-anchor="end" fill="#111" stroke="#111" stroke-width="0.18">9.6</text>
<line x1="52.50" y1="351.96" x2="54.90" y2="351.96" stroke="#1c1c1c" stroke-width="1"/>
<text x="51.60" y="354.06" font-family="'Liberation Sans', sans-serif" font-size="6.1" font-weight="bold" text-anchor="end" fill="#111" stroke="#111" stroke-width="0.18">8.4</text>
<line x1="52.50" y1="369.69" x2="54.90" y2="369.69" stroke="#1c1c1c" stroke-width="1"/>
<text x="51.60" y="371.79" font-family="'Liberation Sans', sans-serif" font-size="6.1" font-weight="bold" text-anchor="end" fill="#111" stroke="#111" stroke-width="0.18">7.2</text>
<line x1="52.50" y1="387.42" x2="54.90" y2="387.42" stroke="#1c1c1c" stroke-width="1"/>
<text x="51.60" y="389.52" font-family="'Liberation Sans', sans-serif" font-size="6.1" font-weight="bold" text-anchor="end" fill="#111" stroke="#111" stroke-width="0.18">6.0</text>
<line x1="54.40" y1="400.50" x2="181.30" y2="400.50" stroke="#1c1c1c" stroke-width="1"/>
<line x1="71.00" y1="400.50" x2="71.00" y2="402.70" stroke="#1c1c1c" stroke-width="1"/>
<text x="71.00" y="408.70" font-family="'Liberation Sans', sans-serif" font-size="5.8" font-weight="bold" text-anchor="middle" fill="#111" stroke="#111" stroke-width="0.18">I</text>
<line x1="102.50" y1="400.50" x2="102.50" y2="402.70" stroke="#1c1c1c" stroke-width="1"/>
<text x="102.50" y="408.70" font-family="'Liberation Sans', sans-serif" font-size="5.8" font-weight="bold" text-anchor="middle" fill="#111" stroke="#111" stroke-width="0.18">II</text>
<line x1="134.10" y1="400.50" x2="134.10" y2="402.70" stroke="#1c1c1c" stroke-width="1"/>
<text x="134.10" y="408.70" font-family="'Liberation Sans', sans-serif" font-size="5.8" font-weight="bold" text-anchor="middle" fill="#111" stroke="#111" stroke-width="0.18">III</text>
<line x1="165.50" y1="400.50" x2="165.50" y2="402.70" stroke="#1c1c1c" stroke-width="1"/>
<text x="165.50" y="408.70" font-family="'Liberation Sans', sans-serif" font-size="5.8" font-weight="bold" text-anchor="middle" fill="#111" stroke="#111" stroke-width="0.18">IV</text>
<text x="37.10" y="358.50" font-family="'Liberation Sans', sans-serif" font-size="6.9" font-weight="bold" text-anchor="middle" fill="#1a1a1a" stroke="#1a1a1a" stroke-width="0.08" transform="rotate(-90 37.10 358.50)">MFAP5 Expression</text>
<path d="M69.4 316.9l1.45 1.4l1.45-1.4M69.6 321.0l1.45 1.4l1.45-1.4M69.6 322.9l1.45 1.4l1.45-1.4M69.6 325.2l1.45 1.4l1.45-1.4M69.7 327.2l1.45 1.4l1.45-1.4M67.8 327.5l1.45 1.4l1.45-1.4M69.5 329.6l1.45 1.4l1.45-1.4M71.3 329.6l1.45 1.4l1.45-1.4M69.4 331.6l1.45 1.4l1.45-1.4M71.3 331.3l1.45 1.4l1.45-1.4M69.7 333.4l1.45 1.4l1.45-1.4M71.4 333.7l1.45 1.4l1.45-1.4M69.6 335.9l1.45 1.4l1.45-1.4M69.6 337.9l1.45 1.4l1.45-1.4M71.5 337.9l1.45 1.4l1.45-1.4M69.4 339.7l1.45 1.4l1.45-1.4M69.6 341.8l1.45 1.4l1.45-1.4M67.5 341.9l1.45 1.4l1.45-1.4M69.8 343.9l1.45 1.4l1.45-1.4M67.4 344.3l1.45 1.4l1.45-1.4M69.5 346.2l1.45 1.4l1.45-1.4M67.7 346.2l1.45 1.4l1.45-1.4M69.7 348.5l1.45 1.4l1.45-1.4M71.3 348.3l1.45 1.4l1.45-1.4M67.8 348.3l1.45 1.4l1.45-1.4M69.6 350.2l1.45 1.4l1.45-1.4M71.6 350.6l1.45 1.4l1.45-1.4M69.6 352.5l1.45 1.4l1.45-1.4M67.7 352.5l1.45 1.4l1.45-1.4M71.7 352.7l1.45 1.4l1.45-1.4M69.7 354.7l1.45 1.4l1.45-1.4M67.8 354.6l1.45 1.4l1.45-1.4M69.6 356.8l1.45 1.4l1.45-1.4M67.8 356.7l1.45 1.4l1.45-1.4M71.6 356.5l1.45 1.4l1.45-1.4M65.7 356.7l1.45 1.4l1.45-1.4M69.6 358.9l1.45 1.4l1.45-1.4M71.3 359.0l1.45 1.4l1.45-1.4M69.6 360.9l1.45 1.4l1.45-1.4M71.5 360.8l1.45 1.4l1.45-1.4M67.9 361.0l1.45 1.4l1.45-1.4M69.8 362.8l1.45 1.4l1.45-1.4M67.7 363.1l1.45 1.4l1.45-1.4M71.3 363.0l1.45 1.4l1.45-1.4M69.5 364.9l1.45 1.4l1.45-1.4M71.3 365.3l1.45 1.4l1.45-1.4M69.8 367.2l1.45 1.4l1.45-1.4M67.9 367.3l1.45 1.4l1.45-1.4M71.6 367.0l1.45 1.4l1.45-1.4M69.3 369.5l1.45 1.4l1.45-1.4M67.5 369.3l1.45 1.4l1.45-1.4M71.3 369.3l1.45 1.4l1.45-1.4M69.8 371.4l1.45 1.4l1.45-1.4M71.5 371.4l1.45 1.4l1.45-1.4M67.6 371.3l1.45 1.4l1.45-1.4M69.4 373.6l1.45 1.4l1.45-1.4M67.5 373.3l1.45 1.4l1.45-1.4M71.3 373.3l1.45 1.4l1.45-1.4M69.5 375.8l1.45 1.4l1.45-1.4M67.8 375.4l1.45 1.4l1.45-1.4M69.3 377.9l1.45 1.4l1.45-1.4M67.6 377.7l1.45 1.4l1.45-1.4M71.7 377.6l1.45 1.4l1.45-1.4M65.8 377.9l1.45 1.4l1.45-1.4M69.8 380.0l1.45 1.4l1.45-1.4M71.5 379.6l1.45 1.4l1.45-1.4M67.7 379.8l1.45 1.4l1.45-1.4M73.2 379.6l1.45 1.4l1.45-1.4M69.5 382.0l1.45 1.4l1.45-1.4M71.4 381.8l1.45 1.4l1.45-1.4M67.7 381.9l1.45 1.4l1.45-1.4M69.8 384.2l1.45 1.4l1.45-1.4M67.8 383.9l1.45 1.4l1.45-1.4M71.3 384.2l1.45 1.4l1.45-1.4M65.9 384.1l1.45 1.4l1.45-1.4M69.6 386.1l1.45 1.4l1.45-1.4M71.5 386.2l1.45 1.4l1.45-1.4M67.8 385.9l1.45 1.4l1.45-1.4M69.8 388.4l1.45 1.4l1.45-1.4M67.4 388.0l1.45 1.4l1.45-1.4M71.3 388.2l1.45 1.4l1.45-1.4M69.6 390.1l1.45 1.4l1.45-1.4M71.2 390.4l1.45 1.4l1.45-1.4M67.7 390.4l1.45 1.4l1.45-1.4M73.3 390.3l1.45 1.4l1.45-1.4M69.7 392.6l1.45 1.4l1.45-1.4M71.2 392.2l1.45 1.4l1.45-1.4M67.8 392.5l1.45 1.4l1.45-1.4M69.5 394.4l1.45 1.4l1.45-1.4M71.6 394.4l1.45 1.4l1.45-1.4M67.7 394.7l1.45 1.4l1.45-1.4M73.3 394.5l1.45 1.4l1.45-1.4M69.5 396.5l1.45 1.4l1.45-1.4M67.4 396.8l1.45 1.4l1.45-1.4M71.2 396.4l1.45 1.4l1.45-1.4M65.8 396.6l1.45 1.4l1.45-1.4M69.7 398.5l1.45 1.4l1.45-1.4M71.3 398.8l1.45 1.4l1.45-1.4M67.4 398.6l1.45 1.4l1.45-1.4M73.5 398.8l1.45 1.4l1.45-1.4" stroke="#d0d856" stroke-width="0.95" fill="none" stroke-linejoin="round"/>
<line x1="71.00" y1="347.30" x2="71.00" y2="389.60" stroke="#505048" stroke-width="0.9"/>
<line x1="60.00" y1="370.20" x2="82.00" y2="370.20" stroke="#505048" stroke-width="1.4"/>
<line x1="65.90" y1="347.30" x2="76.10" y2="347.30" stroke="#7a7a70" stroke-width="1.1"/>
<line x1="65.90" y1="389.60" x2="76.10" y2="389.60" stroke="#7a7a70" stroke-width="1.1"/>
<path d="M101.0 319.8l1.4 1.4l1.4-1.4M101.3 322.4l1.4 1.4l1.4-1.4M101.3 324.3l1.4 1.4l1.4-1.4M102.8 324.3l1.4 1.4l1.4-1.4M101.0 326.5l1.4 1.4l1.4-1.4M99.2 326.5l1.4 1.4l1.4-1.4M100.9 328.8l1.4 1.4l1.4-1.4M101.3 331.0l1.4 1.4l1.4-1.4M99.1 331.1l1.4 1.4l1.4-1.4M100.9 333.2l1.4 1.4l1.4-1.4M102.9 333.2l1.4 1.4l1.4-1.4M101.3 335.2l1.4 1.4l1.4-1.4M99.3 335.5l1.4 1.4l1.4-1.4M100.9 339.9l1.4 1.4l1.4-1.4M99.1 339.9l1.4 1.4l1.4-1.4M101.0 342.1l1.4 1.4l1.4-1.4M101.0 344.1l1.4 1.4l1.4-1.4M101.1 346.4l1.4 1.4l1.4-1.4M99.4 346.5l1.4 1.4l1.4-1.4M101.3 348.7l1.4 1.4l1.4-1.4M103.1 348.8l1.4 1.4l1.4-1.4M101.3 350.9l1.4 1.4l1.4-1.4M99.3 350.9l1.4 1.4l1.4-1.4M101.1 352.8l1.4 1.4l1.4-1.4M103.0 353.2l1.4 1.4l1.4-1.4M101.0 355.2l1.4 1.4l1.4-1.4M100.9 357.3l1.4 1.4l1.4-1.4M101.2 359.4l1.4 1.4l1.4-1.4M101.1 362.0l1.4 1.4l1.4-1.4M100.9 363.9l1.4 1.4l1.4-1.4M101.1 366.1l1.4 1.4l1.4-1.4M100.9 368.5l1.4 1.4l1.4-1.4M101.3 370.6l1.4 1.4l1.4-1.4M101.3 372.7l1.4 1.4l1.4-1.4M101.1 374.9l1.4 1.4l1.4-1.4M99.1 375.2l1.4 1.4l1.4-1.4M101.1 377.2l1.4 1.4l1.4-1.4M102.8 377.4l1.4 1.4l1.4-1.4M99.4 377.1l1.4 1.4l1.4-1.4M101.0 379.5l1.4 1.4l1.4-1.4M100.9 381.4l1.4 1.4l1.4-1.4M99.2 381.5l1.4 1.4l1.4-1.4M101.2 384.0l1.4 1.4l1.4-1.4M99.2 383.8l1.4 1.4l1.4-1.4M102.7 383.9l1.4 1.4l1.4-1.4M101.3 386.2l1.4 1.4l1.4-1.4M101.2 388.0l1.4 1.4l1.4-1.4M101.3 390.4l1.4 1.4l1.4-1.4M103.1 390.3l1.4 1.4l1.4-1.4M101.3 392.4l1.4 1.4l1.4-1.4M103.1 392.5l1.4 1.4l1.4-1.4M99.3 392.6l1.4 1.4l1.4-1.4M101.0 394.7l1.4 1.4l1.4-1.4M99.1 394.7l1.4 1.4l1.4-1.4M101.0 397.1l1.4 1.4l1.4-1.4M99.1 396.9l1.4 1.4l1.4-1.4M102.9 397.2l1.4 1.4l1.4-1.4" stroke="#ff6214" stroke-width="1.0" fill="none" stroke-linejoin="round"/>
<line x1="102.50" y1="347.90" x2="102.50" y2="394.60" stroke="#3a3a3a" stroke-width="0.9"/>
<line x1="92.00" y1="374.00" x2="113.00" y2="374.00" stroke="#3a3a3a" stroke-width="1.4"/>
<line x1="97.40" y1="347.90" x2="107.60" y2="347.90" stroke="#7a7a7a" stroke-width="1.1"/>
<line x1="97.40" y1="394.60" x2="107.60" y2="394.60" stroke="#7a7a7a" stroke-width="1.1"/>
<polygon points="124.1,322.5 124.1,323.5 124.1,324.5 124.1,325.5 124.1,326.5 124.1,327.5 124.1,328.5 124.1,329.5 124.1,330.5 124.1,331.5 124.1,332.5 124.1,333.5 124.1,334.5 124.0,335.5 124.0,336.5 124.0,337.5 124.0,338.5 124.0,339.5 124.0,340.5 124.0,341.5 124.0,342.5 124.0,343.5 124.0,344.5 124.0,345.5 124.0,346.5 124.0,347.5 124.0,348.5 124.0,349.5 124.0,350.5 124.0,351.5 124.0,352.5 124.0,353.5 124.0,354.5 124.0,355.5 124.0,356.5 124.0,357.5 124.0,358.5 124.0,359.5 124.0,360.5 123.9,361.5 123.9,362.5 123.9,363.5 123.9,364.5 123.9,365.5 123.9,366.5 123.9,367.5 123.9,368.5 123.9,369.5 123.9,370.5 123.9,371.5 123.9,372.5 123.9,373.5 123.9,374.5 123.9,375.5 123.9,376.5 123.9,377.5 123.9,378.5 123.9,379.5 123.9,380.5 123.9,381.5 123.9,382.5 123.9,383.5 123.9,384.5 123.9,385.5 123.9,386.5 123.8,387.5 123.8,388.5 123.8,389.5 123.8,390.5 123.8,391.5 123.8,392.5 123.8,393.5 123.8,394.5 123.8,395.5 123.8,396.5 123.8,397.5 123.8,398.5 123.8,399.5 123.8,400.0 144.4,400.0 144.4,399.5 144.4,398.5 144.4,397.5 144.4,396.5 144.4,395.5 144.4,394.5 144.4,393.5 144.4,392.5 144.4,391.5 144.4,390.5 144.4,389.5 144.4,388.5 144.4,387.5 144.3,386.5 144.3,385.5 144.3,384.5 144.3,383.5 144.3,382.5 144.3,381.5 144.3,380.5 144.3,379.5 144.3,378.5 144.3,377.5 144.3,376.5 144.3,375.5 144.3,374.5 144.3,373.5 144.3,372.5 144.3,371.5 144.3,370.5 144.3,369.5 144.3,368.5 144.3,367.5 144.3,366.5 144.3,365.5 144.3,364.5 144.3,363.5 144.3,362.5 144.3,361.5 144.2,360.5 144.2,359.5 144.2,358.5 144.2,357.5 144.2,356.5 144.2,355.5 144.2,354.5 144.2,353.5 144.2,352.5 144.2,351.5 144.2,350.5 144.2,349.5 144.2,348.5 144.2,347.5 144.2,346.5 144.2,345.5 144.2,344.5 144.2,343.5 144.2,342.5 144.2,341.5 144.2,340.5 144.2,339.5 144.2,338.5 144.2,337.5 144.2,336.5 144.2,335.5 144.1,334.5 144.1,333.5 144.1,332.5 144.1,331.5 144.1,330.5 144.1,329.5 144.1,328.5 144.1,327.5 144.1,326.5 144.1,325.5 144.1,324.5 144.1,323.5 144.1,322.5" fill="#ffc0c0"/>
<path d="M139.0 322.7h2.0M124.3 322.4h2.0M136.9 322.2h2.0M134.3 322.5h2.0M124.3 323.0h2.0M138.5 322.2h2.0M135.2 322.3h2.0M130.9 322.5h2.0M129.5 322.3h2.0M131.2 322.7h2.0M128.7 322.2h2.0M137.3 322.3h2.0M141.1 323.6h2.0M137.1 323.3h2.0M139.0 323.1h2.0M126.6 323.1h2.0M136.3 323.7h2.0M127.3 323.4h2.0M139.2 323.6h2.0M125.7 323.2h2.0M126.9 323.1h2.0M131.4 323.1h2.0M140.7 323.4h2.0M133.3 323.6h2.0M137.9 324.8h2.0M131.0 324.3h2.0M131.5 324.0h2.0M131.3 324.7h2.0M141.8 324.8h2.0M136.0 324.6h2.0M124.4 324.3h2.0M130.3 324.7h2.0M126.0 324.4h2.0M133.3 324.8h2.0M139.0 324.6h2.0M126.9 324.8h2.0M140.4 325.5h2.0M130.4 325.5h2.0M126.6 325.7h2.0M141.9 325.5h2.0M137.0 325.8h2.0M127.6 325.9h2.0M135.4 325.2h2.0M125.6 325.2h2.0M134.5 325.7h2.0M130.0 325.9h2.0M130.6 325.5h2.0M126.3 326.0h2.0M126.5 326.9h2.0M133.9 326.6h2.0M134.2 326.3h2.0M140.5 327.0h2.0M138.8 326.6h2.0M126.3 326.8h2.0M129.3 326.9h2.0M128.4 326.6h2.0M139.1 326.2h2.0M134.0 326.1h2.0M124.7 326.2h2.0M141.9 326.9h2.0M136.0 327.3h2.0M136.2 327.7h2.0M131.0 327.6h2.0M138.6 327.0h2.0M127.7 327.5h2.0M126.7 327.4h2.0M134.4 327.2h2.0M133.5 327.3h2.0M134.3 327.3h2.0M135.7 327.0h2.0M136.2 327.1h2.0M141.4 327.6h2.0M132.6 328.4h2.0M135.3 328.7h2.0M137.8 328.8h2.0M132.8 329.0h2.0M139.2 328.9h2.0M131.5 328.4h2.0M134.3 328.9h2.0M133.6 328.5h2.0M131.9 328.9h2.0M129.9 328.1h2.0M137.2 328.9h2.0M137.3 328.6h2.0M137.6 329.3h2.0M134.8 329.1h2.0M126.3 329.4h2.0M133.1 329.4h2.0M125.0 329.7h2.0M133.6 329.2h2.0M129.6 329.4h2.0M128.3 329.1h2.0M140.5 330.0h2.0M136.1 329.9h2.0M131.7 329.8h2.0M128.1 329.7h2.0M134.3 330.9h2.0M125.8 330.8h2.0M126.3 330.5h2.0M141.2 330.0h2.0M128.5 330.3h2.0M129.9 330.1h2.0M140.2 330.8h2.0M131.2 330.4h2.0M134.6 330.0h2.0M124.6 330.9h2.0M129.6 330.5h2.0M140.9 331.0h2.0M132.6 331.2h2.0M129.4 331.9h2.0M140.3 331.2h2.0M139.2 331.4h2.0M132.6 331.2h2.0M140.0 332.0h2.0M127.7 331.6h2.0M127.5 331.9h2.0M125.0 331.1h2.0M137.2 331.3h2.0M140.3 331.9h2.0M137.0 331.1h2.0M136.6 332.9h2.0M132.1 332.1h2.0M128.1 332.3h2.0M136.9 332.2h2.0M127.3 332.2h2.0M136.1 332.8h2.0M130.8 332.7h2.0M140.1 332.6h2.0M128.2 332.3h2.0M140.8 332.7h2.0M129.1 332.6h2.0M125.7 333.0h2.0M132.0 333.5h2.0M133.7 333.0h2.0M134.9 333.3h2.0M128.6 333.8h2.0M125.6 333.3h2.0M137.7 333.2h2.0M129.1 333.5h2.0M127.4 333.9h2.0M141.9 333.0h2.0M132.4 333.8h2.0M131.0 333.9h2.0M133.1 333.2h2.0M134.1 334.6h2.0M130.6 334.7h2.0M138.2 334.5h2.0M133.2 334.8h2.0M136.4 334.5h2.0M141.3 334.2h2.0M138.2 334.2h2.0M135.1 334.2h2.0M132.0 334.8h2.0M138.3 334.8h2.0M128.3 334.5h2.0M128.1 334.6h2.0M133.1 335.0h2.0M134.9 335.7h2.0M134.4 335.9h2.0M127.3 335.2h2.0M124.4 335.5h2.0M131.9 335.4h2.0M128.8 335.8h2.0M125.4 335.9h2.0M134.3 335.5h2.0M138.4 335.2h2.0M126.7 335.3h2.0M124.8 335.3h2.0M135.3 336.5h2.0M128.8 336.6h2.0M125.6 336.8h2.0M127.2 336.3h2.0M126.9 336.7h2.0M139.1 336.8h2.0M125.2 336.4h2.0M130.6 336.2h2.0M141.6 336.0h2.0M132.9 336.8h2.0M141.9 336.1h2.0M132.3 336.7h2.0M124.8 337.2h2.0M140.2 337.1h2.0M131.2 337.3h2.0M131.7 337.1h2.0M124.7 338.0h2.0M137.9 337.7h2.0M128.2 337.3h2.0M134.0 337.2h2.0M132.4 337.9h2.0M130.6 337.3h2.0M141.8 337.6h2.0M124.8 337.4h2.0M135.8 338.1h2.0M130.3 338.7h2.0M139.7 338.6h2.0M140.1 338.5h2.0M131.2 338.8h2.0M130.9 338.8h2.0M127.9 338.3h2.0M127.4 338.5h2.0M127.0 338.2h2.0M127.9 338.5h2.0M129.6 338.4h2.0M142.0 338.7h2.0M139.7 339.2h2.0M131.0 339.1h2.0M136.6 339.4h2.0M129.0 339.0h2.0M127.3 339.3h2.0M131.2 339.9h2.0M137.0 339.3h2.0M130.6 339.2h2.0M141.0 339.4h2.0M137.9 339.7h2.0M140.5 339.0h2.0M129.9 339.4h2.0M125.5 340.9h2.0M129.9 340.8h2.0M133.5 340.1h2.0M131.2 340.2h2.0M124.8 340.2h2.0M134.8 340.0h2.0M129.7 340.4h2.0M133.9 340.1h2.0M136.8 340.3h2.0M137.2 340.7h2.0M126.7 340.2h2.0M129.1 340.7h2.0M131.4 341.4h2.0M139.7 341.2h2.0M129.3 341.3h2.0M127.9 341.0h2.0M124.5 341.6h2.0M134.3 341.8h2.0M141.7 341.3h2.0M136.2 341.9h2.0M127.9 341.7h2.0M136.1 342.0h2.0M139.8 341.2h2.0M135.5 341.1h2.0M131.8 342.4h2.0M125.1 342.4h2.0M130.0 342.5h2.0M129.1 342.2h2.0M131.3 342.5h2.0M127.0 342.7h2.0M128.4 342.1h2.0M130.2 342.4h2.0M126.8 342.6h2.0M136.8 342.6h2.0M136.7 342.0h2.0M131.1 342.4h2.0M125.2 343.4h2.0M125.0 343.5h2.0M134.7 343.5h2.0M129.9 343.3h2.0M124.4 343.3h2.0M140.2 343.6h2.0M128.8 343.7h2.0M127.4 343.5h2.0M135.2 344.0h2.0M130.6 343.6h2.0M141.1 343.8h2.0M135.4 343.6h2.0M131.5 344.4h2.0M129.0 344.8h2.0M140.0 344.4h2.0M140.5 344.0h2.0M126.5 344.5h2.0M129.6 344.4h2.0M141.8 344.1h2.0M127.5 344.2h2.0M136.4 344.2h2.0M124.0 344.5h2.0M131.2 344.2h2.0M133.0 344.7h2.0M134.0 345.6h2.0M134.2 345.8h2.0M141.6 345.3h2.0M130.3 345.9h2.0M129.7 345.7h2.0M136.7 345.7h2.0M141.5 345.8h2.0M126.9 345.6h2.0M132.9 345.6h2.0M130.7 345.3h2.0M137.6 345.5h2.0M128.3 345.2h2.0M129.9 346.2h2.0M133.3 346.1h2.0M125.2 346.1h2.0M125.9 346.7h2.0M126.1 346.5h2.0M138.0 346.5h2.0M127.0 346.9h2.0M139.8 346.1h2.0M128.6 346.5h2.0M138.5 346.4h2.0M137.0 346.3h2.0M137.0 346.3h2.0M130.1 347.8h2.0M139.3 347.8h2.0M134.3 347.4h2.0M136.9 347.6h2.0M139.1 347.8h2.0M126.3 347.4h2.0M136.2 347.2h2.0M127.4 347.0h2.0M134.7 347.9h2.0M141.7 347.1h2.0M136.5 347.4h2.0M135.5 347.4h2.0M141.0 349.0h2.0M124.9 348.7h2.0M126.2 348.0h2.0M129.2 348.7h2.0M142.1 348.1h2.0M130.0 348.0h2.0M133.9 348.5h2.0M130.8 348.3h2.0M138.6 348.8h2.0M129.2 348.4h2.0M135.2 348.8h2.0M141.9 348.4h2.0M136.6 349.5h2.0M138.6 349.1h2.0M127.2 349.1h2.0M141.0 349.3h2.0M132.9 349.1h2.0M129.9 349.0h2.0M134.3 349.1h2.0M135.4 349.3h2.0M128.1 349.5h2.0M130.7 349.3h2.0M124.9 349.1h2.0M140.3 349.3h2.0M125.4 350.2h2.0M132.8 351.0h2.0M127.7 350.9h2.0M132.8 350.4h2.0M138.7 350.4h2.0M125.0 350.6h2.0M136.0 350.6h2.0M129.0 350.9h2.0M139.7 351.0h2.0M132.1 350.8h2.0M137.2 350.2h2.0M124.5 350.2h2.0M126.2 351.1h2.0M130.5 351.8h2.0M129.6 351.5h2.0M124.2 351.2h2.0M141.5 351.0h2.0M133.6 351.8h2.0M138.4 351.7h2.0M131.3 351.8h2.0M139.1 351.8h2.0M142.0 351.1h2.0M141.3 351.4h2.0M136.8 351.3h2.0M140.6 352.0h2.0M134.5 352.2h2.0M131.1 352.4h2.0M136.0 352.8h2.0M130.6 352.6h2.0M130.4 352.3h2.0M140.5 352.3h2.0M125.7 352.3h2.0M137.5 352.2h2.0M137.5 352.5h2.0M136.4 352.2h2.0M125.9 352.1h2.0M130.4 353.4h2.0M124.2 353.5h2.0M131.3 353.3h2.0M133.8 354.0h2.0M127.7 353.9h2.0M129.8 353.8h2.0M126.0 354.0h2.0M131.8 354.0h2.0M128.0 353.4h2.0M136.9 353.2h2.0M129.0 353.7h2.0M141.3 353.3h2.0M127.3 354.4h2.0M142.0 354.1h2.0M135.6 354.4h2.0M135.7 354.2h2.0M135.2 354.9h2.0M139.6 354.6h2.0M133.2 354.6h2.0M126.1 354.8h2.0M136.6 354.5h2.0M136.1 354.4h2.0M131.0 354.2h2.0M134.9 354.6h2.0M133.4 355.0h2.0M135.4 355.4h2.0M134.8 355.6h2.0M141.0 355.2h2.0M132.5 356.0h2.0M137.4 355.3h2.0M137.4 356.0h2.0M131.3 355.9h2.0M126.3 356.0h2.0M132.9 355.2h2.0M139.3 355.6h2.0M141.1 355.8h2.0M138.5 356.5h2.0M142.1 356.1h2.0M139.9 356.7h2.0M128.5 356.8h2.0M132.3 356.5h2.0M139.8 356.2h2.0M129.1 356.6h2.0M125.3 356.6h2.0M138.3 356.5h2.0M128.4 356.8h2.0M139.6 356.8h2.0M134.0 356.9h2.0M138.5 357.2h2.0M130.6 357.1h2.0M124.6 357.3h2.0M139.8 357.8h2.0M126.1 357.2h2.0M131.1 357.8h2.0M135.2 357.9h2.0M125.3 358.0h2.0M127.7 357.6h2.0M140.0 357.7h2.0M127.6 357.7h2.0M131.8 357.0h2.0M130.2 358.3h2.0M135.5 358.3h2.0M135.0 358.7h2.0M127.3 358.1h2.0M136.6 358.5h2.0M126.3 358.1h2.0M141.2 358.6h2.0M130.5 358.2h2.0M142.1 358.7h2.0M137.4 358.4h2.0M129.6 358.4h2.0M126.6 358.6h2.0M131.7 359.8h2.0M131.4 359.5h2.0M133.2 359.9h2.0M130.3 359.7h2.0M128.3 359.6h2.0M129.2 359.9h2.0M129.2 359.9h2.0M136.3 359.5h2.0M141.0 359.4h2.0M137.5 359.6h2.0M132.2 359.1h2.0M131.6 359.3h2.0M132.0 361.0h2.0M129.3 360.7h2.0M136.2 360.2h2.0M131.5 360.1h2.0M140.3 360.3h2.0M131.6 360.3h2.0M139.0 360.9h2.0M134.8 360.5h2.0M125.8 360.9h2.0M125.6 360.4h2.0M130.8 360.7h2.0M136.2 360.3h2.0M140.4 361.9h2.0M124.4 361.6h2.0M132.5 361.4h2.0M132.5 361.3h2.0M136.2 361.6h2.0M141.7 362.0h2.0M142.1 361.4h2.0M139.1 361.6h2.0M136.8 362.0h2.0M125.2 361.5h2.0M131.3 361.7h2.0M127.9 362.0h2.0M127.8 362.4h2.0M126.6 362.4h2.0M137.5 362.1h2.0M127.0 362.6h2.0M135.4 362.7h2.0M128.6 362.8h2.0M137.3 362.8h2.0M126.1 362.5h2.0M124.2 362.9h2.0M141.2 362.9h2.0M124.4 362.4h2.0M133.8 362.5h2.0M126.0 363.8h2.0M129.5 363.5h2.0M126.2 363.6h2.0M126.3 363.1h2.0M133.3 363.3h2.0M138.2 363.2h2.0M131.5 363.1h2.0M127.9 363.5h2.0M134.2 363.5h2.0M139.5 363.1h2.0M139.5 363.2h2.0M141.7 363.5h2.0M131.4 364.6h2.0M139.8 365.0h2.0M131.5 364.0h2.0M126.8 364.8h2.0M137.4 364.7h2.0M126.8 364.5h2.0M124.5 364.1h2.0M129.4 365.0h2.0M135.7 364.8h2.0M124.8 364.4h2.0M125.4 364.3h2.0M126.0 364.9h2.0M130.0 365.5h2.0M135.9 365.9h2.0M141.3 365.6h2.0M133.1 365.9h2.0M131.2 365.3h2.0M137.5 365.3h2.0M130.7 365.4h2.0M132.7 365.4h2.0M131.8 365.5h2.0M124.8 365.8h2.0M125.1 365.5h2.0M134.0 365.4h2.0M128.0 366.1h2.0M130.8 366.3h2.0M132.8 366.2h2.0M137.7 366.5h2.0M124.1 366.4h2.0M141.7 366.0h2.0M134.8 367.0h2.0M130.6 366.6h2.0M130.7 366.3h2.0M135.1 366.6h2.0M129.7 366.5h2.0M133.4 366.8h2.0M124.9 367.1h2.0M128.5 367.3h2.0M138.5 367.4h2.0M139.7 367.4h2.0M129.2 367.7h2.0M125.5 368.0h2.0M139.2 367.3h2.0M129.7 367.8h2.0M138.4 367.6h2.0M125.0 367.8h2.0M124.8 367.6h2.0M134.1 367.9h2.0M135.6 368.0h2.0M141.1 368.8h2.0M134.6 368.0h2.0M137.4 368.4h2.0M136.4 369.0h2.0M140.8 368.1h2.0M138.3 368.4h2.0M137.7 368.4h2.0M132.1 368.4h2.0M126.1 368.3h2.0M137.4 368.1h2.0M126.0 368.8h2.0M136.2 369.5h2.0M126.0 369.1h2.0M129.6 370.0h2.0M134.2 369.9h2.0M127.8 369.4h2.0M133.8 369.8h2.0M126.2 369.9h2.0M132.6 369.0h2.0M131.9 369.4h2.0M136.3 369.9h2.0M133.0 369.7h2.0M131.0 369.8h2.0M125.8 370.7h2.0M127.0 370.6h2.0M127.6 370.3h2.0M126.9 370.3h2.0M134.8 370.5h2.0M131.1 370.6h2.0M139.4 370.4h2.0M134.6 370.5h2.0M141.9 370.3h2.0M136.7 370.2h2.0M128.7 370.7h2.0M134.5 370.3h2.0M125.1 371.8h2.0M130.8 371.7h2.0M131.9 371.6h2.0M134.2 372.0h2.0M140.6 371.5h2.0M132.9 371.2h2.0M137.8 371.1h2.0M129.5 371.8h2.0M124.6 371.7h2.0M134.4 371.6h2.0M130.0 371.2h2.0M141.4 371.8h2.0M138.7 372.1h2.0M138.3 372.2h2.0M127.6 372.5h2.0M135.1 372.1h2.0M138.0 372.6h2.0M140.4 372.9h2.0M136.6 372.4h2.0M141.4 372.7h2.0M129.3 372.9h2.0M137.3 372.3h2.0M128.5 372.0h2.0M133.8 372.3h2.0M129.3 373.3h2.0M126.3 373.5h2.0M128.9 373.3h2.0M129.0 373.5h2.0M140.0 373.2h2.0M139.7 373.9h2.0M135.1 373.5h2.0M137.4 373.5h2.0M136.0 373.9h2.0M138.2 373.3h2.0M124.9 373.9h2.0M130.6 373.8h2.0M128.2 374.5h2.0M130.7 374.7h2.0M141.3 374.5h2.0M134.3 374.3h2.0M128.2 374.9h2.0M125.9 374.9h2.0M136.0 374.1h2.0M140.5 374.1h2.0M134.3 374.1h2.0M142.1 374.3h2.0M139.9 374.1h2.0M136.2 374.1h2.0M124.4 375.6h2.0M142.0 375.7h2.0M139.6 375.8h2.0M133.5 375.1h2.0M133.6 375.2h2.0M133.6 375.4h2.0M133.1 375.2h2.0M136.9 375.4h2.0M132.8 375.1h2.0M132.9 375.6h2.0M141.8 375.6h2.0M126.4 375.3h2.0M130.1 376.7h2.0M141.2 377.0h2.0M141.4 376.9h2.0M139.7 376.9h2.0M124.3 376.5h2.0M134.8 376.7h2.0M135.2 376.6h2.0M141.1 376.1h2.0M133.5 377.0h2.0M124.5 376.1h2.0M139.9 377.0h2.0M124.3 376.0h2.0M139.2 377.7h2.0M133.5 377.6h2.0M137.8 377.8h2.0M123.9 377.1h2.0M138.5 378.0h2.0M139.2 377.4h2.0M130.1 377.3h2.0M124.2 377.8h2.0M128.7 377.6h2.0M133.6 377.3h2.0M136.3 377.5h2.0M128.2 377.9h2.0M127.1 378.1h2.0M128.6 378.5h2.0M138.3 378.3h2.0M128.3 378.7h2.0M128.7 378.5h2.0M128.6 378.9h2.0M127.3 378.2h2.0M129.4 378.3h2.0M137.3 378.7h2.0M138.5 378.5h2.0M125.3 378.8h2.0M128.4 378.2h2.0M131.5 380.0h2.0M130.7 379.4h2.0M140.7 380.0h2.0M131.0 379.1h2.0M138.4 379.8h2.0M130.1 379.8h2.0M130.9 379.3h2.0M134.8 379.7h2.0M132.7 379.8h2.0M124.1 379.5h2.0M130.9 379.1h2.0M140.7 379.1h2.0M127.7 380.9h2.0M141.6 380.9h2.0M130.2 380.9h2.0M126.5 380.7h2.0M141.3 380.2h2.0M126.4 380.7h2.0M140.2 380.7h2.0M141.4 380.5h2.0M130.7 380.1h2.0M128.9 380.9h2.0M125.2 380.2h2.0M130.3 380.0h2.0M129.5 381.2h2.0M126.1 381.5h2.0M133.8 381.6h2.0M137.9 381.5h2.0M141.4 381.1h2.0M128.0 381.1h2.0M129.6 381.8h2.0M140.9 381.5h2.0M126.8 381.3h2.0M134.4 381.3h2.0M138.5 382.0h2.0M132.4 381.6h2.0M139.5 382.5h2.0M127.4 382.9h2.0M141.9 382.0h2.0M138.0 382.4h2.0M124.8 382.2h2.0M127.1 382.7h2.0M127.8 382.0h2.0M127.9 382.8h2.0M133.1 382.7h2.0M132.5 382.2h2.0M124.1 382.3h2.0M124.6 382.3h2.0M135.3 383.4h2.0M132.6 383.6h2.0M129.7 383.4h2.0M140.2 383.6h2.0M131.6 383.5h2.0M132.4 383.3h2.0M140.7 383.2h2.0M141.2 383.9h2.0M140.2 383.2h2.0M133.3 384.0h2.0M129.2 383.2h2.0M137.2 383.2h2.0M134.6 384.2h2.0M141.4 384.3h2.0M125.7 384.7h2.0M130.3 384.6h2.0M133.0 384.9h2.0M133.4 384.4h2.0M123.9 384.5h2.0M128.8 384.6h2.0M135.5 384.5h2.0M125.5 384.5h2.0M132.8 384.6h2.0M141.8 384.3h2.0M132.0 385.1h2.0M138.6 385.2h2.0M139.2 385.8h2.0M128.6 385.9h2.0M133.2 385.4h2.0M134.1 385.9h2.0M132.9 385.5h2.0M129.2 385.8h2.0M133.2 385.3h2.0M127.5 385.2h2.0M139.3 385.8h2.0M142.0 385.9h2.0M136.5 386.8h2.0M137.0 386.8h2.0M138.7 386.2h2.0M138.9 386.3h2.0M128.4 386.9h2.0M124.3 386.5h2.0M130.2 386.8h2.0M135.1 386.9h2.0M141.1 386.6h2.0M125.0 386.7h2.0M125.9 387.0h2.0M140.0 386.3h2.0M127.3 387.7h2.0M137.9 388.0h2.0M135.4 387.1h2.0M137.3 387.1h2.0M139.9 387.8h2.0M138.4 387.9h2.0M134.4 387.9h2.0M135.7 387.5h2.0M131.0 387.4h2.0M124.3 387.2h2.0M138.6 387.2h2.0M135.9 387.8h2.0M136.7 388.5h2.0M129.7 388.3h2.0M127.3 388.6h2.0M136.5 388.9h2.0M130.0 388.9h2.0M140.7 388.3h2.0M141.5 388.6h2.0M141.7 388.8h2.0M130.0 388.3h2.0M133.5 388.5h2.0M124.5 388.9h2.0M133.8 388.5h2.0M137.6 389.2h2.0M127.5 389.6h2.0M128.3 389.3h2.0M125.1 389.1h2.0M130.4 389.5h2.0M141.4 389.6h2.0M131.5 389.4h2.0M128.2 389.5h2.0M141.6 389.1h2.0M131.9 389.7h2.0M138.0 389.6h2.0M135.7 389.9h2.0M140.6 390.3h2.0M133.9 391.0h2.0M133.6 390.2h2.0M138.0 390.1h2.0M126.6 390.6h2.0M128.9 390.7h2.0M137.3 390.3h2.0M138.0 390.6h2.0M136.9 390.5h2.0M131.8 390.1h2.0M132.6 391.0h2.0M140.3 390.1h2.0M125.1 391.3h2.0M136.7 391.4h2.0M126.2 391.4h2.0M134.5 391.7h2.0M131.3 391.6h2.0M136.5 391.6h2.0M124.7 391.7h2.0M126.2 391.1h2.0M132.6 391.0h2.0M125.2 391.4h2.0M132.5 391.1h2.0M141.5 391.9h2.0M132.9 392.6h2.0M129.7 393.0h2.0M126.1 392.3h2.0M127.9 392.9h2.0M133.3 392.4h2.0M131.2 392.9h2.0M128.6 392.8h2.0M137.0 392.4h2.0M130.6 392.4h2.0M132.2 392.3h2.0M135.4 392.4h2.0M129.5 392.8h2.0M132.3 393.5h2.0M140.1 393.5h2.0M130.8 393.9h2.0M141.9 393.8h2.0M131.3 393.7h2.0M137.6 393.3h2.0M137.3 393.9h2.0M136.0 393.7h2.0M131.9 393.7h2.0M128.0 393.8h2.0M133.8 394.0h2.0M130.2 393.7h2.0M124.1 394.4h2.0M138.0 394.3h2.0M135.2 394.2h2.0M131.2 395.0h2.0M127.5 394.9h2.0M124.9 394.6h2.0M139.1 394.8h2.0M131.1 394.6h2.0M137.0 394.8h2.0M137.7 394.6h2.0M128.5 394.7h2.0M134.2 394.5h2.0M142.1 395.1h2.0M138.3 395.3h2.0M137.3 396.0h2.0M128.9 395.6h2.0M133.6 395.5h2.0M126.9 395.6h2.0M140.4 395.7h2.0M129.2 395.8h2.0M131.6 395.1h2.0M135.1 395.5h2.0M133.7 396.0h2.0M134.4 396.0h2.0M130.4 396.8h2.0M125.2 396.3h2.0M136.7 396.7h2.0M139.2 396.4h2.0M128.9 396.4h2.0M133.8 396.0h2.0M130.8 396.7h2.0M126.6 396.3h2.0M140.0 396.9h2.0M128.5 396.2h2.0M126.0 396.1h2.0M138.6 396.7h2.0M128.7 397.5h2.0M136.7 397.0h2.0M139.0 397.9h2.0M127.7 397.7h2.0M136.8 397.3h2.0M140.1 397.2h2.0M132.6 397.3h2.0M132.0 397.8h2.0M134.4 397.6h2.0M142.1 397.2h2.0M127.9 397.6h2.0M126.6 398.0h2.0M130.1 398.4h2.0M131.8 398.8h2.0M140.8 398.7h2.0M127.0 398.4h2.0M136.9 398.2h2.0M140.2 398.9h2.0M128.0 398.4h2.0M128.1 398.7h2.0M124.7 398.7h2.0M125.0 398.8h2.0M133.9 398.6h2.0M125.6 398.0h2.0M130.4 400.0h2.0M135.0 399.9h2.0M125.0 399.1h2.0M124.2 399.7h2.0M127.1 399.3h2.0M136.2 399.7h2.0M129.8 399.5h2.0M129.2 399.6h2.0M130.4 399.4h2.0M128.4 399.3h2.0M128.7 399.0h2.0M129.6 399.6h2.0" stroke="#ff2424" stroke-width="1.0" fill="none"/>
<polygon points="127.6,319.0 126.7,320.0 125.9,321.0 125.0,322.0 124.6,322.5 143.6,322.5 143.2,322.0 142.3,321.0 141.5,320.0 140.6,319.0" fill="#ffcaca"/>
<path d="M130.6 318.6h2.0M136.9 319.0h2.0M133.2 318.8h2.0M137.4 319.3h2.0M134.4 319.2h2.0M135.2 319.0h2.0M132.1 318.9h2.0M133.2 320.0h2.0M133.5 320.0h2.0M136.8 320.4h2.0M129.6 319.5h2.0M130.6 319.5h2.0M136.9 320.1h2.0M130.4 319.7h2.0M137.8 320.3h2.0M135.7 321.2h2.0M136.6 321.0h2.0M131.6 321.1h2.0M138.6 321.5h2.0M139.1 321.3h2.0M127.0 320.7h2.0M139.9 321.0h2.0M133.3 320.8h2.0M138.3 321.0h2.0M141.0 321.6h2.0M141.1 321.5h2.0M127.4 321.9h2.0M135.4 321.6h2.0M134.1 322.4h2.0M132.1 322.3h2.0M134.6 322.1h2.0M127.8 322.0h2.0M139.6 322.2h2.0M128.5 321.9h2.0" stroke="#ff2424" stroke-width="1.0" fill="none"/>
<line x1="123.50" y1="318.20" x2="144.90" y2="318.20" stroke="#ff3a3a" stroke-width="1.2"/>
<line x1="134.10" y1="339.80" x2="134.10" y2="382.50" stroke="#3a2020" stroke-width="0.9"/>
<line x1="123.60" y1="362.20" x2="144.60" y2="362.20" stroke="#3a2020" stroke-width="1.4"/>
<line x1="128.90" y1="339.80" x2="139.30" y2="339.80" stroke="#4a2a2a" stroke-width="1.1"/>
<line x1="128.90" y1="382.50" x2="139.30" y2="382.50" stroke="#4a2a2a" stroke-width="1.1"/>
<path d="M163.9 317.8l1.6 1.6l1.6-1.6M163.7 321.6l1.6 1.6l1.6-1.6M165.6 321.7l1.6 1.6l1.6-1.6M164.0 323.3l1.6 1.6l1.6-1.6M165.9 323.5l1.6 1.6l1.6-1.6M163.7 325.4l1.6 1.6l1.6-1.6M165.5 325.2l1.6 1.6l1.6-1.6M163.9 327.4l1.6 1.6l1.6-1.6M164.1 328.9l1.6 1.6l1.6-1.6M165.8 329.2l1.6 1.6l1.6-1.6M163.9 330.9l1.6 1.6l1.6-1.6M165.9 330.9l1.6 1.6l1.6-1.6M162.2 330.8l1.6 1.6l1.6-1.6M163.8 332.8l1.6 1.6l1.6-1.6M162.3 333.0l1.6 1.6l1.6-1.6M165.5 332.7l1.6 1.6l1.6-1.6M164.1 334.9l1.6 1.6l1.6-1.6M165.9 334.9l1.6 1.6l1.6-1.6M164.0 336.7l1.6 1.6l1.6-1.6M165.5 336.7l1.6 1.6l1.6-1.6M162.0 336.7l1.6 1.6l1.6-1.6M164.1 338.5l1.6 1.6l1.6-1.6M165.6 338.4l1.6 1.6l1.6-1.6M163.7 340.5l1.6 1.6l1.6-1.6M162.1 340.6l1.6 1.6l1.6-1.6M165.7 340.4l1.6 1.6l1.6-1.6M163.7 342.6l1.6 1.6l1.6-1.6M161.9 342.2l1.6 1.6l1.6-1.6M164.0 344.4l1.6 1.6l1.6-1.6M162.2 344.4l1.6 1.6l1.6-1.6M165.5 344.5l1.6 1.6l1.6-1.6M163.7 346.0l1.6 1.6l1.6-1.6M165.9 346.1l1.6 1.6l1.6-1.6M164.1 348.2l1.6 1.6l1.6-1.6M165.9 347.9l1.6 1.6l1.6-1.6M163.7 349.8l1.6 1.6l1.6-1.6M165.6 350.1l1.6 1.6l1.6-1.6M163.9 351.8l1.6 1.6l1.6-1.6M165.5 351.9l1.6 1.6l1.6-1.6M163.9 353.6l1.6 1.6l1.6-1.6M165.8 353.6l1.6 1.6l1.6-1.6M162.0 353.6l1.6 1.6l1.6-1.6M163.8 355.7l1.6 1.6l1.6-1.6M162.3 355.5l1.6 1.6l1.6-1.6M165.6 355.8l1.6 1.6l1.6-1.6M160.2 355.8l1.6 1.6l1.6-1.6M163.8 357.5l1.6 1.6l1.6-1.6M165.8 357.7l1.6 1.6l1.6-1.6M162.2 357.8l1.6 1.6l1.6-1.6M167.3 357.5l1.6 1.6l1.6-1.6M163.7 359.7l1.6 1.6l1.6-1.6M162.2 359.7l1.6 1.6l1.6-1.6M165.6 359.6l1.6 1.6l1.6-1.6M160.5 359.7l1.6 1.6l1.6-1.6M164.1 361.6l1.6 1.6l1.6-1.6M162.2 361.6l1.6 1.6l1.6-1.6M165.5 361.4l1.6 1.6l1.6-1.6M164.0 363.1l1.6 1.6l1.6-1.6M165.8 363.2l1.6 1.6l1.6-1.6M162.0 363.4l1.6 1.6l1.6-1.6M164.1 365.4l1.6 1.6l1.6-1.6M165.6 365.1l1.6 1.6l1.6-1.6M164.1 366.9l1.6 1.6l1.6-1.6M165.7 367.0l1.6 1.6l1.6-1.6M161.9 366.9l1.6 1.6l1.6-1.6M163.8 369.2l1.6 1.6l1.6-1.6M165.8 368.8l1.6 1.6l1.6-1.6M163.9 371.0l1.6 1.6l1.6-1.6M165.9 371.1l1.6 1.6l1.6-1.6M162.1 370.8l1.6 1.6l1.6-1.6M164.0 372.8l1.6 1.6l1.6-1.6M165.8 372.6l1.6 1.6l1.6-1.6M162.2 373.0l1.6 1.6l1.6-1.6M163.7 374.5l1.6 1.6l1.6-1.6M162.1 374.5l1.6 1.6l1.6-1.6M164.0 376.8l1.6 1.6l1.6-1.6M161.9 376.4l1.6 1.6l1.6-1.6M165.5 376.6l1.6 1.6l1.6-1.6M163.9 378.7l1.6 1.6l1.6-1.6M162.0 378.3l1.6 1.6l1.6-1.6M165.8 378.3l1.6 1.6l1.6-1.6M160.2 378.3l1.6 1.6l1.6-1.6M163.9 380.2l1.6 1.6l1.6-1.6M165.8 380.6l1.6 1.6l1.6-1.6M164.0 382.4l1.6 1.6l1.6-1.6M165.9 382.3l1.6 1.6l1.6-1.6M162.1 382.5l1.6 1.6l1.6-1.6M163.8 384.3l1.6 1.6l1.6-1.6M162.2 384.2l1.6 1.6l1.6-1.6M165.5 384.2l1.6 1.6l1.6-1.6M163.9 386.1l1.6 1.6l1.6-1.6M161.9 385.9l1.6 1.6l1.6-1.6M164.1 388.1l1.6 1.6l1.6-1.6M162.0 388.0l1.6 1.6l1.6-1.6M165.7 388.2l1.6 1.6l1.6-1.6M163.9 389.8l1.6 1.6l1.6-1.6M162.1 389.8l1.6 1.6l1.6-1.6M165.9 389.7l1.6 1.6l1.6-1.6M164.0 391.6l1.6 1.6l1.6-1.6M165.5 391.8l1.6 1.6l1.6-1.6M163.9 393.6l1.6 1.6l1.6-1.6M162.0 393.9l1.6 1.6l1.6-1.6M165.6 393.5l1.6 1.6l1.6-1.6M163.7 395.4l1.6 1.6l1.6-1.6M165.9 395.7l1.6 1.6l1.6-1.6M161.9 395.7l1.6 1.6l1.6-1.6M164.0 397.3l1.6 1.6l1.6-1.6M165.9 397.4l1.6 1.6l1.6-1.6" stroke="#d6304a" stroke-width="1.0" fill="none" stroke-linejoin="round"/>
<line x1="165.50" y1="338.70" x2="165.50" y2="378.30" stroke="#3a2a2a" stroke-width="0.9"/>
<line x1="154.70" y1="359.40" x2="176.30" y2="359.40" stroke="#3a2a2a" stroke-width="1.4"/>
<line x1="160.20" y1="338.70" x2="170.80" y2="338.70" stroke="#8a7a7a" stroke-width="1.1"/>
<line x1="160.20" y1="378.30" x2="170.80" y2="378.30" stroke="#8a7a7a" stroke-width="1.1"/>
<line x1="52.40" y1="450.00" x2="52.40" y2="535.00" stroke="#1c1c1c" stroke-width="1"/>
<line x1="50.00" y1="450.50" x2="52.40" y2="450.50" stroke="#1c1c1c" stroke-width="1"/>
<text x="49.10" y="452.60" font-family="'Liberation Sans', sans-serif" font-size="6.1" font-weight="bold" text-anchor="end" fill="#111" stroke="#111" stroke-width="0.18">10.8</text>
<line x1="50.00" y1="468.25" x2="52.40" y2="468.25" stroke="#1c1c1c" stroke-width="1"/>
<text x="49.10" y="470.35" font-family="'Liberation Sans', sans-serif" font-size="6.1" font-weight="bold" text-anchor="end" fill="#111" stroke="#111" stroke-width="0.18">9.6</text>
<line x1="50.00" y1="486.00" x2="52.40" y2="486.00" stroke="#1c1c1c" stroke-width="1"/>
<text x="49.10" y="488.10" font-family="'Liberation Sans', sans-serif" font-size="6.1" font-weight="bold" text-anchor="end" fill="#111" stroke="#111" stroke-width="0.18">8.4</text>
<line x1="50.00" y1="503.75" x2="52.40" y2="503.75" stroke="#1c1c1c" stroke-width="1"/>
<text x="49.10" y="505.85" font-family="'Liberation Sans', sans-serif" font-size="6.1" font-weight="bold" text-anchor="end" fill="#111" stroke="#111" stroke-width="0.18">7.2</text>
<line x1="50.00" y1="521.50" x2="52.40" y2="521.50" stroke="#1c1c1c" stroke-width="1"/>
<text x="49.10" y="523.60" font-family="'Liberation Sans', sans-serif" font-size="6.1" font-weight="bold" text-anchor="end" fill="#111" stroke="#111" stroke-width="0.18">6.0</text>
<line x1="51.90" y1="534.50" x2="178.90" y2="534.50" stroke="#1c1c1c" stroke-width="1"/>
<line x1="73.30" y1="534.50" x2="73.30" y2="536.70" stroke="#1c1c1c" stroke-width="1"/>
<text x="73.30" y="542.70" font-family="'Liberation Sans', sans-serif" font-size="5.8" font-weight="bold" text-anchor="middle" fill="#111" stroke="#111" stroke-width="0.18">G1</text>
<line x1="115.30" y1="534.50" x2="115.30" y2="536.70" stroke="#1c1c1c" stroke-width="1"/>
<text x="115.30" y="542.70" font-family="'Liberation Sans', sans-serif" font-size="5.8" font-weight="bold" text-anchor="middle" fill="#111" stroke="#111" stroke-width="0.18">G2</text>
<line x1="157.50" y1="534.50" x2="157.50" y2="536.70" stroke="#1c1c1c" stroke-width="1"/>
<text x="157.50" y="542.70" font-family="'Liberation Sans', sans-serif" font-size="5.8" font-weight="bold" text-anchor="middle" fill="#111" stroke="#111" stroke-width="0.18">G3</text>
<text x="33.30" y="492.50" font-family="'Liberation Sans', sans-serif" font-size="6.9" font-weight="bold" text-anchor="middle" fill="#1a1a1a" stroke="#1a1a1a" stroke-width="0.08" transform="rotate(-90 33.30 492.50)">MFAP5 Expression</text>
<path d="M72.2 455.0l1.35 1.3l1.35-1.3M71.9 459.1l1.35 1.3l1.35-1.3M71.9 465.0l1.35 1.3l1.35-1.3M70.5 465.0l1.35 1.3l1.35-1.3M71.8 470.9l1.35 1.3l1.35-1.3M70.2 470.7l1.35 1.3l1.35-1.3M71.9 472.8l1.35 1.3l1.35-1.3M71.9 474.7l1.35 1.3l1.35-1.3M72.0 478.8l1.35 1.3l1.35-1.3M73.6 478.7l1.35 1.3l1.35-1.3M71.8 481.0l1.35 1.3l1.35-1.3M70.3 480.9l1.35 1.3l1.35-1.3M72.1 483.1l1.35 1.3l1.35-1.3M70.2 482.9l1.35 1.3l1.35-1.3M71.9 484.9l1.35 1.3l1.35-1.3M72.1 487.0l1.35 1.3l1.35-1.3M71.9 488.9l1.35 1.3l1.35-1.3M70.1 488.8l1.35 1.3l1.35-1.3M72.2 490.8l1.35 1.3l1.35-1.3M71.8 492.9l1.35 1.3l1.35-1.3M73.8 492.6l1.35 1.3l1.35-1.3M71.8 495.0l1.35 1.3l1.35-1.3M71.8 496.7l1.35 1.3l1.35-1.3M73.6 496.7l1.35 1.3l1.35-1.3M72.0 499.0l1.35 1.3l1.35-1.3M73.6 498.7l1.35 1.3l1.35-1.3M72.1 500.9l1.35 1.3l1.35-1.3M72.0 502.8l1.35 1.3l1.35-1.3M71.9 505.1l1.35 1.3l1.35-1.3M72.1 506.9l1.35 1.3l1.35-1.3M70.1 507.0l1.35 1.3l1.35-1.3M71.7 508.6l1.35 1.3l1.35-1.3M72.2 510.9l1.35 1.3l1.35-1.3M73.8 511.1l1.35 1.3l1.35-1.3M71.9 513.0l1.35 1.3l1.35-1.3M70.3 512.7l1.35 1.3l1.35-1.3M73.7 512.8l1.35 1.3l1.35-1.3M72.0 514.9l1.35 1.3l1.35-1.3M70.4 515.0l1.35 1.3l1.35-1.3M71.7 516.7l1.35 1.3l1.35-1.3M71.9 518.8l1.35 1.3l1.35-1.3M73.7 518.7l1.35 1.3l1.35-1.3M70.4 518.8l1.35 1.3l1.35-1.3M71.7 520.9l1.35 1.3l1.35-1.3M70.0 521.0l1.35 1.3l1.35-1.3M73.4 520.7l1.35 1.3l1.35-1.3M72.0 522.8l1.35 1.3l1.35-1.3M70.3 522.7l1.35 1.3l1.35-1.3M73.6 522.7l1.35 1.3l1.35-1.3M71.8 524.7l1.35 1.3l1.35-1.3M73.7 524.9l1.35 1.3l1.35-1.3M70.0 525.1l1.35 1.3l1.35-1.3M71.8 527.0l1.35 1.3l1.35-1.3M73.9 526.7l1.35 1.3l1.35-1.3M70.4 527.0l1.35 1.3l1.35-1.3M71.8 528.7l1.35 1.3l1.35-1.3M73.5 529.1l1.35 1.3l1.35-1.3M70.5 528.8l1.35 1.3l1.35-1.3M71.8 530.9l1.35 1.3l1.35-1.3M73.8 531.0l1.35 1.3l1.35-1.3M71.9 532.8l1.35 1.3l1.35-1.3M73.6 532.9l1.35 1.3l1.35-1.3" stroke="#f38a58" stroke-width="1.1" fill="none" stroke-linejoin="round"/>
<line x1="73.30" y1="488.50" x2="73.30" y2="527.80" stroke="#3a3a3a" stroke-width="0.9"/>
<line x1="59.10" y1="510.60" x2="87.50" y2="510.60" stroke="#3a3a3a" stroke-width="1.4"/>
<line x1="66.10" y1="488.50" x2="80.50" y2="488.50" stroke="#8a8a8a" stroke-width="1.1"/>
<line x1="66.10" y1="527.80" x2="80.50" y2="527.80" stroke="#8a8a8a" stroke-width="1.1"/>
<path d="M113.9 450.1l1.45 1.4l1.45-1.4M115.6 450.2l1.45 1.4l1.45-1.4M111.8 450.1l1.45 1.4l1.45-1.4M114.1 452.4l1.45 1.4l1.45-1.4M115.6 452.1l1.45 1.4l1.45-1.4M113.7 454.1l1.45 1.4l1.45-1.4M116.0 454.0l1.45 1.4l1.45-1.4M113.6 456.1l1.45 1.4l1.45-1.4M115.7 456.1l1.45 1.4l1.45-1.4M113.7 457.8l1.45 1.4l1.45-1.4M115.9 458.0l1.45 1.4l1.45-1.4M111.8 457.9l1.45 1.4l1.45-1.4M117.7 457.9l1.45 1.4l1.45-1.4M114.0 460.0l1.45 1.4l1.45-1.4M115.9 460.0l1.45 1.4l1.45-1.4M112.1 459.6l1.45 1.4l1.45-1.4M118.0 459.7l1.45 1.4l1.45-1.4M113.8 461.7l1.45 1.4l1.45-1.4M116.0 461.8l1.45 1.4l1.45-1.4M111.8 461.9l1.45 1.4l1.45-1.4M117.9 461.7l1.45 1.4l1.45-1.4M113.7 463.6l1.45 1.4l1.45-1.4M116.0 463.6l1.45 1.4l1.45-1.4M112.1 463.4l1.45 1.4l1.45-1.4M113.8 465.4l1.45 1.4l1.45-1.4M111.7 465.3l1.45 1.4l1.45-1.4M115.8 465.5l1.45 1.4l1.45-1.4M109.9 465.5l1.45 1.4l1.45-1.4M113.9 467.3l1.45 1.4l1.45-1.4M115.8 467.3l1.45 1.4l1.45-1.4M111.8 467.2l1.45 1.4l1.45-1.4M117.6 467.3l1.45 1.4l1.45-1.4M109.8 467.2l1.45 1.4l1.45-1.4M114.0 469.2l1.45 1.4l1.45-1.4M115.8 469.3l1.45 1.4l1.45-1.4M111.7 469.1l1.45 1.4l1.45-1.4M117.9 469.3l1.45 1.4l1.45-1.4M109.9 469.2l1.45 1.4l1.45-1.4M119.8 469.3l1.45 1.4l1.45-1.4M114.0 471.3l1.45 1.4l1.45-1.4M112.0 471.2l1.45 1.4l1.45-1.4M115.8 471.2l1.45 1.4l1.45-1.4M110.0 471.4l1.45 1.4l1.45-1.4M117.9 471.0l1.45 1.4l1.45-1.4M108.1 471.3l1.45 1.4l1.45-1.4M119.7 471.4l1.45 1.4l1.45-1.4M113.8 473.3l1.45 1.4l1.45-1.4M115.6 473.1l1.45 1.4l1.45-1.4M111.7 473.2l1.45 1.4l1.45-1.4M117.7 473.2l1.45 1.4l1.45-1.4M109.9 473.3l1.45 1.4l1.45-1.4M119.5 473.0l1.45 1.4l1.45-1.4M114.0 474.9l1.45 1.4l1.45-1.4M111.7 475.1l1.45 1.4l1.45-1.4M115.9 474.8l1.45 1.4l1.45-1.4M110.2 475.0l1.45 1.4l1.45-1.4M117.5 475.0l1.45 1.4l1.45-1.4M107.9 474.8l1.45 1.4l1.45-1.4M119.9 475.2l1.45 1.4l1.45-1.4M113.7 477.0l1.45 1.4l1.45-1.4M115.6 476.8l1.45 1.4l1.45-1.4M111.9 476.9l1.45 1.4l1.45-1.4M117.7 476.9l1.45 1.4l1.45-1.4M110.2 477.1l1.45 1.4l1.45-1.4M119.9 477.1l1.45 1.4l1.45-1.4M113.8 478.9l1.45 1.4l1.45-1.4M115.9 478.7l1.45 1.4l1.45-1.4M112.1 478.7l1.45 1.4l1.45-1.4M117.5 478.6l1.45 1.4l1.45-1.4M109.8 478.9l1.45 1.4l1.45-1.4M119.9 478.6l1.45 1.4l1.45-1.4M107.9 478.7l1.45 1.4l1.45-1.4M113.7 480.5l1.45 1.4l1.45-1.4M112.1 480.9l1.45 1.4l1.45-1.4M115.9 480.7l1.45 1.4l1.45-1.4M110.1 480.8l1.45 1.4l1.45-1.4M117.8 480.6l1.45 1.4l1.45-1.4M108.0 480.8l1.45 1.4l1.45-1.4M119.6 480.8l1.45 1.4l1.45-1.4M105.9 480.9l1.45 1.4l1.45-1.4M114.1 482.8l1.45 1.4l1.45-1.4M116.0 482.8l1.45 1.4l1.45-1.4M112.1 482.8l1.45 1.4l1.45-1.4M117.8 482.4l1.45 1.4l1.45-1.4M110.1 482.8l1.45 1.4l1.45-1.4M119.9 482.4l1.45 1.4l1.45-1.4M107.8 482.7l1.45 1.4l1.45-1.4M114.1 484.5l1.45 1.4l1.45-1.4M112.0 484.6l1.45 1.4l1.45-1.4M115.9 484.4l1.45 1.4l1.45-1.4M110.0 484.3l1.45 1.4l1.45-1.4M118.0 484.6l1.45 1.4l1.45-1.4M108.2 484.5l1.45 1.4l1.45-1.4M119.6 484.5l1.45 1.4l1.45-1.4M113.7 486.2l1.45 1.4l1.45-1.4M111.8 486.3l1.45 1.4l1.45-1.4M115.7 486.3l1.45 1.4l1.45-1.4M109.9 486.5l1.45 1.4l1.45-1.4M118.0 486.5l1.45 1.4l1.45-1.4M107.8 486.6l1.45 1.4l1.45-1.4M119.8 486.5l1.45 1.4l1.45-1.4M106.1 486.3l1.45 1.4l1.45-1.4M113.9 488.1l1.45 1.4l1.45-1.4M115.9 488.5l1.45 1.4l1.45-1.4M112.0 488.4l1.45 1.4l1.45-1.4M117.9 488.5l1.45 1.4l1.45-1.4M110.1 488.5l1.45 1.4l1.45-1.4M119.7 488.1l1.45 1.4l1.45-1.4M108.1 488.4l1.45 1.4l1.45-1.4M113.8 490.0l1.45 1.4l1.45-1.4M112.1 490.3l1.45 1.4l1.45-1.4M116.0 490.2l1.45 1.4l1.45-1.4M110.1 490.3l1.45 1.4l1.45-1.4M118.0 490.2l1.45 1.4l1.45-1.4M108.2 490.1l1.45 1.4l1.45-1.4M119.5 490.1l1.45 1.4l1.45-1.4M106.0 490.4l1.45 1.4l1.45-1.4M113.9 491.9l1.45 1.4l1.45-1.4M115.7 492.0l1.45 1.4l1.45-1.4M111.7 492.1l1.45 1.4l1.45-1.4M117.7 492.3l1.45 1.4l1.45-1.4M109.9 492.3l1.45 1.4l1.45-1.4M119.5 492.1l1.45 1.4l1.45-1.4M107.9 491.9l1.45 1.4l1.45-1.4M113.7 494.0l1.45 1.4l1.45-1.4M111.9 493.9l1.45 1.4l1.45-1.4M115.8 493.8l1.45 1.4l1.45-1.4M109.9 493.9l1.45 1.4l1.45-1.4M117.9 494.1l1.45 1.4l1.45-1.4M108.1 494.0l1.45 1.4l1.45-1.4M119.9 494.1l1.45 1.4l1.45-1.4M114.0 496.1l1.45 1.4l1.45-1.4M116.0 496.0l1.45 1.4l1.45-1.4M111.7 495.9l1.45 1.4l1.45-1.4M117.8 496.0l1.45 1.4l1.45-1.4M109.8 496.1l1.45 1.4l1.45-1.4M119.7 495.8l1.45 1.4l1.45-1.4M108.2 495.8l1.45 1.4l1.45-1.4M113.7 497.7l1.45 1.4l1.45-1.4M111.8 497.9l1.45 1.4l1.45-1.4M115.7 497.9l1.45 1.4l1.45-1.4M110.2 498.0l1.45 1.4l1.45-1.4M117.9 498.0l1.45 1.4l1.45-1.4M107.9 498.0l1.45 1.4l1.45-1.4M119.5 497.8l1.45 1.4l1.45-1.4M114.1 499.5l1.45 1.4l1.45-1.4M115.9 499.7l1.45 1.4l1.45-1.4M111.7 499.8l1.45 1.4l1.45-1.4M117.5 499.9l1.45 1.4l1.45-1.4M110.1 499.7l1.45 1.4l1.45-1.4M119.7 499.5l1.45 1.4l1.45-1.4M108.1 499.5l1.45 1.4l1.45-1.4M113.9 501.4l1.45 1.4l1.45-1.4M112.0 501.7l1.45 1.4l1.45-1.4M115.7 501.7l1.45 1.4l1.45-1.4M110.0 501.6l1.45 1.4l1.45-1.4M117.8 501.5l1.45 1.4l1.45-1.4M107.9 501.8l1.45 1.4l1.45-1.4M119.6 501.7l1.45 1.4l1.45-1.4M106.0 501.4l1.45 1.4l1.45-1.4M114.0 503.7l1.45 1.4l1.45-1.4M111.9 503.3l1.45 1.4l1.45-1.4M115.6 503.3l1.45 1.4l1.45-1.4M110.0 503.6l1.45 1.4l1.45-1.4M118.0 503.4l1.45 1.4l1.45-1.4M107.9 503.4l1.45 1.4l1.45-1.4M119.5 503.3l1.45 1.4l1.45-1.4M113.8 505.6l1.45 1.4l1.45-1.4M115.7 505.6l1.45 1.4l1.45-1.4M111.9 505.2l1.45 1.4l1.45-1.4M117.5 505.5l1.45 1.4l1.45-1.4M110.1 505.2l1.45 1.4l1.45-1.4M119.8 505.3l1.45 1.4l1.45-1.4M108.1 505.6l1.45 1.4l1.45-1.4M121.8 505.3l1.45 1.4l1.45-1.4M114.1 507.5l1.45 1.4l1.45-1.4M111.9 507.1l1.45 1.4l1.45-1.4M115.7 507.5l1.45 1.4l1.45-1.4M109.7 507.2l1.45 1.4l1.45-1.4M117.5 507.5l1.45 1.4l1.45-1.4M107.9 507.1l1.45 1.4l1.45-1.4M119.6 507.2l1.45 1.4l1.45-1.4M113.9 509.0l1.45 1.4l1.45-1.4M111.9 509.0l1.45 1.4l1.45-1.4M115.8 509.4l1.45 1.4l1.45-1.4M109.8 509.4l1.45 1.4l1.45-1.4M117.6 509.1l1.45 1.4l1.45-1.4M108.1 509.0l1.45 1.4l1.45-1.4M119.7 509.2l1.45 1.4l1.45-1.4M106.2 509.4l1.45 1.4l1.45-1.4M113.7 511.1l1.45 1.4l1.45-1.4M115.7 511.1l1.45 1.4l1.45-1.4M111.7 511.2l1.45 1.4l1.45-1.4M117.7 510.9l1.45 1.4l1.45-1.4M109.8 511.3l1.45 1.4l1.45-1.4M119.9 511.3l1.45 1.4l1.45-1.4M107.9 511.3l1.45 1.4l1.45-1.4M121.5 511.2l1.45 1.4l1.45-1.4M113.6 512.8l1.45 1.4l1.45-1.4M115.6 513.2l1.45 1.4l1.45-1.4M112.0 513.0l1.45 1.4l1.45-1.4M117.6 513.1l1.45 1.4l1.45-1.4M109.8 512.8l1.45 1.4l1.45-1.4M119.7 513.1l1.45 1.4l1.45-1.4M108.2 513.2l1.45 1.4l1.45-1.4M121.5 512.9l1.45 1.4l1.45-1.4M105.9 513.0l1.45 1.4l1.45-1.4M113.9 515.1l1.45 1.4l1.45-1.4M111.9 515.1l1.45 1.4l1.45-1.4M116.0 515.1l1.45 1.4l1.45-1.4M110.1 514.8l1.45 1.4l1.45-1.4M117.7 514.7l1.45 1.4l1.45-1.4M108.1 514.9l1.45 1.4l1.45-1.4M119.9 514.8l1.45 1.4l1.45-1.4M114.1 516.9l1.45 1.4l1.45-1.4M112.1 517.0l1.45 1.4l1.45-1.4M115.7 516.9l1.45 1.4l1.45-1.4M109.7 516.9l1.45 1.4l1.45-1.4M118.0 516.8l1.45 1.4l1.45-1.4M107.8 516.8l1.45 1.4l1.45-1.4M119.5 516.8l1.45 1.4l1.45-1.4M105.8 516.8l1.45 1.4l1.45-1.4M114.0 518.7l1.45 1.4l1.45-1.4M111.9 518.5l1.45 1.4l1.45-1.4M115.9 518.7l1.45 1.4l1.45-1.4M109.9 518.5l1.45 1.4l1.45-1.4M117.7 518.5l1.45 1.4l1.45-1.4M107.8 518.5l1.45 1.4l1.45-1.4M119.7 518.5l1.45 1.4l1.45-1.4M106.2 518.8l1.45 1.4l1.45-1.4M121.8 518.7l1.45 1.4l1.45-1.4M114.0 520.6l1.45 1.4l1.45-1.4M115.9 520.7l1.45 1.4l1.45-1.4M111.7 520.4l1.45 1.4l1.45-1.4M117.7 520.8l1.45 1.4l1.45-1.4M110.2 520.6l1.45 1.4l1.45-1.4M119.6 520.4l1.45 1.4l1.45-1.4M108.0 520.6l1.45 1.4l1.45-1.4M113.7 522.3l1.45 1.4l1.45-1.4M115.6 522.7l1.45 1.4l1.45-1.4M112.1 522.3l1.45 1.4l1.45-1.4M117.5 522.5l1.45 1.4l1.45-1.4M109.8 522.6l1.45 1.4l1.45-1.4M119.9 522.6l1.45 1.4l1.45-1.4M107.9 522.6l1.45 1.4l1.45-1.4M121.5 522.6l1.45 1.4l1.45-1.4M105.9 522.7l1.45 1.4l1.45-1.4M113.8 524.6l1.45 1.4l1.45-1.4M111.9 524.3l1.45 1.4l1.45-1.4M115.9 524.3l1.45 1.4l1.45-1.4M109.8 524.2l1.45 1.4l1.45-1.4M117.8 524.3l1.45 1.4l1.45-1.4M107.8 524.5l1.45 1.4l1.45-1.4M119.5 524.5l1.45 1.4l1.45-1.4M105.9 524.3l1.45 1.4l1.45-1.4M121.9 524.6l1.45 1.4l1.45-1.4M113.9 526.5l1.45 1.4l1.45-1.4M112.0 526.3l1.45 1.4l1.45-1.4M115.7 526.2l1.45 1.4l1.45-1.4M110.0 526.2l1.45 1.4l1.45-1.4M117.8 526.5l1.45 1.4l1.45-1.4M108.1 526.2l1.45 1.4l1.45-1.4M119.5 526.2l1.45 1.4l1.45-1.4M106.0 526.5l1.45 1.4l1.45-1.4M121.7 526.3l1.45 1.4l1.45-1.4M113.9 528.2l1.45 1.4l1.45-1.4M111.9 528.1l1.45 1.4l1.45-1.4M115.6 528.2l1.45 1.4l1.45-1.4M110.1 528.4l1.45 1.4l1.45-1.4M117.6 528.2l1.45 1.4l1.45-1.4M108.0 528.2l1.45 1.4l1.45-1.4M119.5 528.3l1.45 1.4l1.45-1.4M105.8 528.1l1.45 1.4l1.45-1.4M121.5 528.1l1.45 1.4l1.45-1.4M113.9 529.9l1.45 1.4l1.45-1.4M115.9 530.2l1.45 1.4l1.45-1.4M112.0 530.1l1.45 1.4l1.45-1.4M117.8 530.0l1.45 1.4l1.45-1.4M109.9 530.2l1.45 1.4l1.45-1.4M119.6 530.2l1.45 1.4l1.45-1.4M108.0 530.3l1.45 1.4l1.45-1.4M121.7 530.1l1.45 1.4l1.45-1.4M113.8 532.0l1.45 1.4l1.45-1.4M115.9 532.1l1.45 1.4l1.45-1.4M111.7 532.2l1.45 1.4l1.45-1.4M118.0 532.0l1.45 1.4l1.45-1.4M110.2 532.1l1.45 1.4l1.45-1.4M119.6 531.8l1.45 1.4l1.45-1.4M107.8 532.0l1.45 1.4l1.45-1.4M121.8 532.1l1.45 1.4l1.45-1.4M106.2 532.0l1.45 1.4l1.45-1.4" stroke="#ff1a1a" stroke-width="1.1" fill="none" stroke-linejoin="round"/>
<line x1="115.30" y1="476.50" x2="115.30" y2="517.70" stroke="#3a2a2a" stroke-width="0.9"/>
<line x1="101.10" y1="498.90" x2="129.50" y2="498.90" stroke="#3a2a2a" stroke-width="1.4"/>
<line x1="108.50" y1="476.50" x2="122.10" y2="476.50" stroke="#6a5a5a" stroke-width="1.1"/>
<line x1="108.50" y1="517.70" x2="122.10" y2="517.70" stroke="#6a5a5a" stroke-width="1.1"/>
<polygon points="144.0,461.0 144.0,462.0 144.0,463.0 144.0,464.0 144.0,465.0 144.0,466.0 144.0,467.0 144.0,468.0 144.0,469.0 144.0,470.0 144.0,471.0 144.0,472.0 144.0,473.0 144.0,474.0 144.0,475.0 144.0,476.0 144.0,477.0 144.0,478.0 144.0,479.0 144.0,480.0 144.0,481.0 144.0,482.0 144.0,483.0 144.0,484.0 144.0,485.0 144.0,486.0 144.0,487.0 144.0,488.0 144.0,489.0 144.0,490.0 144.0,491.0 144.0,492.0 144.0,493.0 144.0,494.0 144.0,495.0 144.0,496.0 144.0,497.0 143.9,498.0 143.9,499.0 143.9,500.0 143.9,501.0 143.9,502.0 143.9,503.0 143.9,504.0 143.9,505.0 143.9,506.0 143.9,507.0 143.9,508.0 143.9,509.0 143.9,510.0 143.9,511.0 143.9,512.0 143.9,513.0 143.9,514.0 143.9,515.0 143.9,516.0 143.9,517.0 143.9,518.0 143.9,519.0 143.9,520.0 143.9,521.0 143.9,522.0 143.9,523.0 143.9,524.0 143.9,525.0 143.9,526.0 143.9,527.0 143.9,528.0 143.9,529.0 143.9,530.0 143.9,531.0 143.9,532.0 143.9,533.0 143.9,534.0 143.9,534.0 171.1,534.0 171.1,534.0 171.1,533.0 171.1,532.0 171.1,531.0 171.1,530.0 171.1,529.0 171.1,528.0 171.1,527.0 171.1,526.0 171.1,525.0 171.1,524.0 171.1,523.0 171.1,522.0 171.1,521.0 171.1,520.0 171.1,519.0 171.1,518.0 171.1,517.0 171.1,516.0 171.1,515.0 171.1,514.0 171.1,513.0 171.1,512.0 171.1,511.0 171.1,510.0 171.1,509.0 171.1,508.0 171.1,507.0 171.1,506.0 171.1,505.0 171.1,504.0 171.1,503.0 171.1,502.0 171.1,501.0 171.1,500.0 171.1,499.0 171.1,498.0 171.0,497.0 171.0,496.0 171.0,495.0 171.0,494.0 171.0,493.0 171.0,492.0 171.0,491.0 171.0,490.0 171.0,489.0 171.0,488.0 171.0,487.0 171.0,486.0 171.0,485.0 171.0,484.0 171.0,483.0 171.0,482.0 171.0,481.0 171.0,480.0 171.0,479.0 171.0,478.0 171.0,477.0 171.0,476.0 171.0,475.0 171.0,474.0 171.0,473.0 171.0,472.0 171.0,471.0 171.0,470.0 171.0,469.0 171.0,468.0 171.0,467.0 171.0,466.0 171.0,465.0 171.0,464.0 171.0,463.0 171.0,462.0 171.0,461.0" fill="#e6a2ac"/>
<path d="M162.0 461.1h2.8M159.3 461.0h2.8M160.1 461.1h2.8M146.2 461.2h2.8M161.0 460.9h2.8M167.5 461.0h2.8M148.0 461.0h2.8M152.7 460.7h2.8M165.5 460.7h2.8M161.2 460.7h2.8M156.5 461.5h2.8M146.1 461.4h2.8M144.1 462.5h2.8M166.0 461.9h2.8M159.4 462.0h2.8M148.0 461.9h2.8M154.7 462.4h2.8M146.8 462.0h2.8M155.4 462.1h2.8M163.2 462.1h2.8M151.8 462.5h2.8M158.5 461.8h2.8M157.2 462.4h2.8M145.1 462.1h2.8M155.8 462.8h2.8M147.9 462.7h2.8M154.6 462.9h2.8M158.6 462.8h2.8M159.0 463.0h2.8M163.3 463.3h2.8M149.7 463.5h2.8M157.2 462.8h2.8M150.2 463.2h2.8M154.6 463.2h2.8M150.2 463.4h2.8M150.4 463.4h2.8M154.6 463.9h2.8M158.0 464.0h2.8M157.3 464.1h2.8M167.0 464.2h2.8M146.2 464.5h2.8M144.4 463.6h2.8M163.8 463.8h2.8M144.7 463.7h2.8M156.0 464.3h2.8M144.5 463.7h2.8M144.3 463.6h2.8M151.6 464.0h2.8M167.4 465.1h2.8M164.7 465.1h2.8M166.0 465.2h2.8M149.8 464.9h2.8M155.6 464.6h2.8M166.4 465.0h2.8M148.8 465.0h2.8M163.5 464.8h2.8M158.2 464.6h2.8M149.8 464.7h2.8M156.2 465.2h2.8M149.5 465.2h2.8M158.2 466.3h2.8M168.1 465.8h2.8M168.1 466.0h2.8M156.3 465.7h2.8M146.0 466.1h2.8M146.5 465.5h2.8M146.0 466.0h2.8M148.7 465.8h2.8M162.6 465.9h2.8M147.6 466.2h2.8M168.1 466.1h2.8M154.8 466.0h2.8M161.0 467.3h2.8M163.0 466.7h2.8M162.9 466.6h2.8M147.1 467.0h2.8M148.5 467.1h2.8M150.9 467.4h2.8M154.5 467.3h2.8M166.9 467.0h2.8M162.6 467.0h2.8M153.7 466.6h2.8M159.9 467.4h2.8M160.6 466.8h2.8M156.7 467.9h2.8M153.5 468.3h2.8M144.2 468.0h2.8M156.4 467.6h2.8M161.7 467.8h2.8M153.8 467.7h2.8M158.5 467.9h2.8M160.6 467.9h2.8M163.0 468.1h2.8M146.5 468.0h2.8M150.1 467.8h2.8M167.0 468.0h2.8M161.9 468.7h2.8M159.2 468.6h2.8M149.4 468.6h2.8M144.6 469.4h2.8M167.4 468.9h2.8M144.3 469.2h2.8M160.0 468.5h2.8M162.6 468.6h2.8M149.6 469.3h2.8M162.6 468.7h2.8M156.3 469.3h2.8M158.6 469.0h2.8M148.5 469.6h2.8M148.5 470.0h2.8M158.4 470.0h2.8M159.4 470.1h2.8M159.6 469.9h2.8M164.4 470.0h2.8M165.3 470.5h2.8M164.0 470.3h2.8M160.7 470.1h2.8M150.0 469.6h2.8M160.0 469.7h2.8M158.8 470.0h2.8M158.7 470.9h2.8M149.8 470.8h2.8M160.9 471.4h2.8M151.7 470.8h2.8M154.8 470.9h2.8M159.3 471.3h2.8M162.6 471.3h2.8M161.6 471.5h2.8M154.9 470.9h2.8M159.8 470.8h2.8M164.1 470.9h2.8M157.5 471.0h2.8M152.8 471.5h2.8M150.7 472.0h2.8M167.0 471.6h2.8M165.9 472.5h2.8M163.2 471.8h2.8M144.5 472.4h2.8M145.6 471.8h2.8M166.7 472.2h2.8M163.9 472.3h2.8M148.3 472.0h2.8M146.3 471.9h2.8M156.0 472.3h2.8M151.0 473.2h2.8M147.4 472.8h2.8M145.4 473.1h2.8M158.2 473.2h2.8M154.2 473.4h2.8M161.5 473.1h2.8M165.2 472.7h2.8M151.1 473.1h2.8M158.5 473.5h2.8M160.4 472.5h2.8M166.9 473.0h2.8M149.0 473.3h2.8M159.2 474.4h2.8M157.3 473.8h2.8M155.4 474.0h2.8M152.5 474.1h2.8M147.6 473.8h2.8M146.9 473.5h2.8M156.7 474.2h2.8M153.7 474.4h2.8M158.7 474.2h2.8M150.9 474.4h2.8M152.4 474.3h2.8M149.9 474.5h2.8M160.5 474.7h2.8M161.7 474.7h2.8M153.3 474.9h2.8M152.1 474.9h2.8M147.9 474.9h2.8M146.2 475.3h2.8M152.6 475.2h2.8M154.4 475.5h2.8M165.3 475.2h2.8M164.4 475.4h2.8M166.5 474.9h2.8M158.4 474.6h2.8M152.8 475.8h2.8M159.1 475.5h2.8M162.3 475.6h2.8M154.2 476.0h2.8M164.4 476.1h2.8M147.6 476.2h2.8M149.7 476.1h2.8M154.0 476.5h2.8M154.9 475.8h2.8M151.5 476.5h2.8M152.4 475.7h2.8M156.9 476.2h2.8M166.8 476.6h2.8M152.0 477.2h2.8M156.0 477.2h2.8M160.3 476.6h2.8M145.2 476.7h2.8M151.3 476.7h2.8M150.9 476.6h2.8M144.6 477.0h2.8M162.4 476.7h2.8M146.3 477.2h2.8M145.9 476.6h2.8M155.9 476.8h2.8M163.0 478.0h2.8M156.7 477.9h2.8M144.6 478.3h2.8M153.4 478.3h2.8M146.5 477.9h2.8M157.1 477.7h2.8M145.8 478.4h2.8M166.7 478.5h2.8M157.2 478.2h2.8M158.6 478.0h2.8M148.1 478.1h2.8M154.7 478.2h2.8M145.0 478.8h2.8M146.7 479.3h2.8M155.6 478.8h2.8M162.9 479.0h2.8M151.0 478.9h2.8M144.0 478.6h2.8M144.9 479.5h2.8M165.3 479.0h2.8M166.8 479.0h2.8M160.5 478.6h2.8M154.6 479.1h2.8M153.9 479.2h2.8M152.3 480.2h2.8M149.0 480.0h2.8M154.4 480.0h2.8M145.3 479.7h2.8M161.3 479.7h2.8M155.5 480.5h2.8M158.8 480.2h2.8M162.7 480.5h2.8M153.4 479.9h2.8M162.3 479.5h2.8M155.3 479.8h2.8M157.5 480.2h2.8M164.9 481.0h2.8M160.7 480.6h2.8M160.0 481.4h2.8M158.9 481.0h2.8M156.4 480.9h2.8M148.3 480.7h2.8M163.2 481.0h2.8M144.9 481.1h2.8M164.1 481.2h2.8M148.3 481.5h2.8M148.4 481.0h2.8M155.1 480.7h2.8M150.4 481.7h2.8M148.0 481.5h2.8M159.6 482.2h2.8M150.1 482.5h2.8M154.2 482.0h2.8M166.5 482.1h2.8M155.3 482.2h2.8M161.9 481.8h2.8M145.7 482.2h2.8M162.1 482.1h2.8M146.8 482.2h2.8M148.2 482.3h2.8M159.1 483.1h2.8M145.8 482.9h2.8M161.8 482.6h2.8M144.9 482.9h2.8M164.7 483.1h2.8M149.5 482.6h2.8M164.3 483.3h2.8M161.0 482.7h2.8M162.2 482.5h2.8M148.2 482.8h2.8M167.2 482.5h2.8M147.9 483.2h2.8M162.5 483.8h2.8M145.8 484.4h2.8M167.5 484.4h2.8M157.7 483.6h2.8M161.9 484.1h2.8M164.1 484.3h2.8M156.2 484.5h2.8M155.2 483.9h2.8M159.4 484.3h2.8M158.2 484.4h2.8M150.6 484.4h2.8M165.3 483.8h2.8M144.7 485.1h2.8M159.0 485.5h2.8M157.5 485.2h2.8M162.4 484.7h2.8M160.1 484.9h2.8M149.2 484.8h2.8M152.8 485.2h2.8M157.4 484.8h2.8M145.3 485.3h2.8M162.3 485.3h2.8M163.0 484.6h2.8M150.8 485.0h2.8M151.2 486.3h2.8M148.9 485.5h2.8M154.9 485.6h2.8M144.7 486.1h2.8M158.6 486.0h2.8M145.7 486.1h2.8M156.7 485.8h2.8M149.4 485.7h2.8M155.7 485.9h2.8M158.2 486.2h2.8M150.7 486.1h2.8M150.2 486.2h2.8M148.9 487.1h2.8M161.8 487.3h2.8M156.8 487.4h2.8M167.9 487.3h2.8M152.7 486.8h2.8M159.2 486.6h2.8M148.3 486.6h2.8M159.8 486.9h2.8M166.3 487.3h2.8M156.9 486.8h2.8M151.7 486.6h2.8M146.7 487.4h2.8M151.2 487.5h2.8M167.8 487.9h2.8M162.8 488.0h2.8M167.5 487.6h2.8M155.5 488.1h2.8M144.6 488.4h2.8M152.2 488.2h2.8M145.9 487.6h2.8M146.1 488.3h2.8M166.8 488.4h2.8M156.8 487.6h2.8M162.8 488.0h2.8M163.0 489.1h2.8M157.7 488.7h2.8M147.4 488.6h2.8M154.5 488.8h2.8M167.1 488.5h2.8M162.4 488.6h2.8M146.5 489.4h2.8M149.3 489.1h2.8M158.2 488.9h2.8M152.5 488.6h2.8M160.9 488.9h2.8M158.5 489.3h2.8M145.8 489.9h2.8M152.5 490.4h2.8M159.0 489.7h2.8M155.1 489.5h2.8M156.4 489.6h2.8M147.3 490.0h2.8M157.0 489.7h2.8M158.1 489.8h2.8M161.0 489.6h2.8M164.4 489.9h2.8M148.2 489.8h2.8M159.2 489.6h2.8M166.1 490.7h2.8M153.9 490.6h2.8M155.0 491.5h2.8M148.5 490.7h2.8M157.2 491.1h2.8M147.4 490.7h2.8M158.6 490.7h2.8M144.6 491.2h2.8M165.0 491.3h2.8M164.7 490.7h2.8M151.5 491.1h2.8M158.9 491.1h2.8M157.4 491.7h2.8M149.7 491.6h2.8M145.4 492.1h2.8M146.1 492.4h2.8M167.2 491.6h2.8M167.4 492.1h2.8M144.1 491.9h2.8M152.7 491.8h2.8M145.6 491.7h2.8M144.4 491.9h2.8M155.7 491.7h2.8M166.4 492.4h2.8M156.1 493.3h2.8M152.5 493.3h2.8M162.8 492.9h2.8M161.9 492.9h2.8M148.2 492.9h2.8M146.7 493.2h2.8M150.1 493.0h2.8M163.6 493.1h2.8M166.0 493.2h2.8M160.8 493.2h2.8M160.7 493.4h2.8M158.4 493.2h2.8M157.3 494.0h2.8M166.8 493.8h2.8M148.6 494.0h2.8M151.5 494.2h2.8M159.4 493.5h2.8M149.0 494.1h2.8M153.6 494.2h2.8M155.4 493.6h2.8M160.7 494.5h2.8M146.2 494.1h2.8M158.9 494.1h2.8M156.2 494.0h2.8M168.0 495.4h2.8M154.5 495.3h2.8M160.2 495.3h2.8M168.2 494.6h2.8M149.1 494.7h2.8M163.8 495.4h2.8M149.5 495.0h2.8M165.6 495.2h2.8M158.2 495.4h2.8M166.4 494.6h2.8M167.4 494.8h2.8M158.9 495.3h2.8M151.1 495.8h2.8M165.9 496.3h2.8M167.7 495.6h2.8M159.2 496.2h2.8M167.2 496.2h2.8M150.8 495.6h2.8M148.2 495.8h2.8M157.8 495.8h2.8M147.6 495.6h2.8M160.6 496.3h2.8M147.0 496.0h2.8M167.8 495.9h2.8M156.9 497.3h2.8M144.5 497.4h2.8M162.8 497.2h2.8M152.3 497.0h2.8M166.8 496.6h2.8M145.9 497.1h2.8M167.1 496.6h2.8M148.5 497.0h2.8M163.1 497.1h2.8M160.0 496.6h2.8M148.8 497.1h2.8M161.6 496.6h2.8M146.2 497.8h2.8M154.0 497.8h2.8M148.1 497.6h2.8M159.6 498.5h2.8M159.4 498.4h2.8M147.0 498.1h2.8M152.8 498.3h2.8M158.5 498.1h2.8M166.2 498.5h2.8M147.3 497.9h2.8M146.0 498.1h2.8M149.4 498.2h2.8M152.6 498.5h2.8M165.5 498.6h2.8M150.5 499.0h2.8M145.3 499.3h2.8M161.4 498.6h2.8M159.0 498.6h2.8M156.8 498.6h2.8M150.8 499.0h2.8M157.2 499.2h2.8M166.5 498.8h2.8M152.5 498.7h2.8M161.9 498.9h2.8M149.1 499.7h2.8M154.2 500.3h2.8M154.6 500.3h2.8M155.4 500.1h2.8M150.2 499.9h2.8M161.6 499.6h2.8M155.0 499.8h2.8M151.0 499.8h2.8M148.8 500.1h2.8M144.9 499.7h2.8M150.4 499.7h2.8M164.2 500.2h2.8M165.5 500.6h2.8M148.5 500.8h2.8M156.3 501.3h2.8M164.2 501.4h2.8M144.4 500.5h2.8M152.1 500.9h2.8M144.1 500.9h2.8M147.1 501.4h2.8M149.1 500.8h2.8M148.2 501.3h2.8M146.7 500.9h2.8M149.3 500.7h2.8M168.1 502.2h2.8M161.8 501.9h2.8M167.7 502.5h2.8M159.4 501.7h2.8M145.1 502.0h2.8M155.8 502.4h2.8M168.2 502.3h2.8M149.8 502.5h2.8M158.8 501.5h2.8M149.0 502.5h2.8M163.3 502.2h2.8M160.0 501.5h2.8M166.7 502.8h2.8M162.7 503.0h2.8M155.8 503.0h2.8M166.3 503.3h2.8M153.5 503.4h2.8M148.2 502.8h2.8M151.7 502.5h2.8M153.7 502.5h2.8M167.5 503.3h2.8M155.6 502.6h2.8M150.3 503.3h2.8M151.1 502.6h2.8M154.3 504.1h2.8M147.0 503.9h2.8M157.5 504.2h2.8M153.8 504.5h2.8M150.2 504.3h2.8M145.9 504.4h2.8M157.2 503.7h2.8M163.8 504.4h2.8M147.1 504.4h2.8M167.3 503.9h2.8M163.2 504.2h2.8M157.7 503.9h2.8M151.6 505.3h2.8M163.0 505.4h2.8M145.6 505.1h2.8M161.1 504.7h2.8M144.4 505.4h2.8M162.9 505.2h2.8M152.0 504.9h2.8M163.7 504.6h2.8M161.5 505.2h2.8M155.2 505.5h2.8M159.3 505.4h2.8M148.7 504.9h2.8M151.0 506.0h2.8M162.3 506.5h2.8M166.1 506.4h2.8M167.7 506.2h2.8M161.9 505.6h2.8M153.9 506.0h2.8M146.5 506.4h2.8M153.0 505.7h2.8M145.9 506.0h2.8M152.1 506.4h2.8M159.4 505.9h2.8M147.8 505.5h2.8M160.7 507.1h2.8M156.0 507.0h2.8M153.9 507.4h2.8M145.3 506.7h2.8M163.3 506.8h2.8M152.0 506.9h2.8M151.1 507.3h2.8M146.3 507.1h2.8M161.3 506.8h2.8M161.7 506.9h2.8M159.1 506.6h2.8M151.7 507.1h2.8M158.8 508.0h2.8M144.8 508.0h2.8M165.0 507.8h2.8M149.0 508.1h2.8M149.6 507.6h2.8M145.7 508.1h2.8M165.4 508.3h2.8M158.3 508.4h2.8M164.6 507.8h2.8M153.2 508.5h2.8M166.9 508.1h2.8M159.3 507.8h2.8M146.1 508.8h2.8M149.6 509.1h2.8M159.9 509.1h2.8M166.1 508.5h2.8M148.9 508.6h2.8M152.9 509.4h2.8M155.3 509.3h2.8M148.4 508.9h2.8M163.4 508.8h2.8M161.7 509.1h2.8M159.9 508.5h2.8M152.7 509.5h2.8M153.1 509.8h2.8M168.3 510.1h2.8M160.9 510.0h2.8M159.1 509.9h2.8M150.6 509.8h2.8M149.5 510.2h2.8M146.1 509.6h2.8M156.3 510.5h2.8M162.9 510.2h2.8M162.0 509.7h2.8M156.4 509.5h2.8M156.6 509.5h2.8M146.7 510.6h2.8M152.3 511.0h2.8M149.2 510.6h2.8M146.9 511.4h2.8M167.9 511.4h2.8M147.3 510.7h2.8M165.3 510.5h2.8M147.6 511.1h2.8M167.4 511.4h2.8M164.5 510.8h2.8M161.8 511.4h2.8M165.8 511.5h2.8M162.5 512.3h2.8M161.0 511.9h2.8M157.9 512.4h2.8M157.8 511.5h2.8M154.8 512.4h2.8M161.2 512.0h2.8M166.7 512.3h2.8M149.4 512.2h2.8M165.1 511.5h2.8M166.7 511.9h2.8M164.6 511.5h2.8M151.7 511.8h2.8M149.2 513.2h2.8M163.3 513.1h2.8M166.1 512.6h2.8M150.9 512.9h2.8M163.2 513.2h2.8M168.0 513.4h2.8M156.8 513.2h2.8M163.8 513.0h2.8M160.5 513.4h2.8M164.2 512.7h2.8M144.7 513.2h2.8M163.8 512.7h2.8M164.6 514.3h2.8M147.9 513.7h2.8M159.9 514.1h2.8M147.8 514.4h2.8M149.2 514.3h2.8M166.9 513.6h2.8M161.0 514.0h2.8M166.2 513.9h2.8M154.0 513.7h2.8M164.5 513.8h2.8M166.1 513.5h2.8M165.6 513.5h2.8M161.5 515.4h2.8M151.8 515.1h2.8M154.0 514.6h2.8M164.4 515.0h2.8M163.4 514.5h2.8M147.9 514.7h2.8M163.8 514.5h2.8M144.5 514.9h2.8M153.3 515.3h2.8M164.8 514.7h2.8M162.0 514.9h2.8M162.6 515.2h2.8M145.6 516.0h2.8M154.2 516.0h2.8M157.4 516.2h2.8M153.7 516.0h2.8M164.1 516.2h2.8M148.6 515.6h2.8M150.5 516.5h2.8M153.4 516.4h2.8M167.4 516.2h2.8M152.9 516.2h2.8M156.1 516.5h2.8M156.1 516.1h2.8M160.6 517.1h2.8M148.3 517.1h2.8M154.4 517.2h2.8M162.8 516.7h2.8M152.9 516.8h2.8M167.3 517.0h2.8M154.9 517.5h2.8M163.0 517.4h2.8M156.2 516.6h2.8M153.0 516.6h2.8M153.7 517.0h2.8M155.6 517.5h2.8M156.9 517.7h2.8M148.3 518.2h2.8M156.5 517.9h2.8M155.9 517.9h2.8M160.4 518.1h2.8M145.1 518.0h2.8M150.0 518.1h2.8M155.2 518.3h2.8M167.4 518.2h2.8M159.0 518.0h2.8M146.7 518.2h2.8M148.7 517.9h2.8M158.1 518.8h2.8M164.9 519.0h2.8M167.6 518.5h2.8M155.2 518.8h2.8M157.9 519.1h2.8M158.3 519.4h2.8M154.7 518.9h2.8M162.2 519.1h2.8M150.5 519.4h2.8M149.4 518.6h2.8M157.0 519.4h2.8M164.7 519.3h2.8M158.8 520.0h2.8M151.0 519.7h2.8M154.7 520.3h2.8M157.4 520.5h2.8M163.4 520.0h2.8M158.3 519.9h2.8M166.0 520.3h2.8M148.3 520.4h2.8M160.4 519.9h2.8M162.1 519.9h2.8M160.8 520.0h2.8M159.3 520.4h2.8M165.6 521.0h2.8M153.4 521.2h2.8M160.2 520.6h2.8M156.3 520.8h2.8M159.7 520.7h2.8M151.2 520.8h2.8M150.8 521.1h2.8M165.0 521.1h2.8M159.7 521.3h2.8M153.4 520.9h2.8M159.8 520.7h2.8M162.3 521.4h2.8M165.4 521.6h2.8M166.2 521.7h2.8M147.1 522.1h2.8M152.4 521.7h2.8M158.7 522.0h2.8M157.0 522.0h2.8M158.9 522.3h2.8M161.5 522.2h2.8M164.1 522.0h2.8M159.5 521.6h2.8M145.9 522.0h2.8M160.5 521.7h2.8M167.3 522.8h2.8M155.9 523.0h2.8M167.6 522.7h2.8M150.0 523.1h2.8M152.7 522.8h2.8M147.1 523.4h2.8M154.7 523.1h2.8M149.9 523.4h2.8M146.5 523.2h2.8M145.5 523.0h2.8M151.8 523.5h2.8M154.6 523.3h2.8M144.6 523.7h2.8M168.0 523.9h2.8M144.8 523.8h2.8M152.8 524.0h2.8M153.2 523.8h2.8M155.5 524.0h2.8M148.4 524.0h2.8M158.0 524.1h2.8M161.9 524.0h2.8M149.1 524.4h2.8M146.8 523.8h2.8M154.1 523.9h2.8M149.1 525.4h2.8M151.3 525.0h2.8M158.8 524.6h2.8M154.4 524.6h2.8M157.1 525.2h2.8M164.7 525.4h2.8M146.7 525.0h2.8M160.2 524.9h2.8M166.9 525.0h2.8M165.1 524.6h2.8M153.4 525.2h2.8M164.3 525.0h2.8M164.8 526.3h2.8M154.0 526.2h2.8M156.5 525.6h2.8M165.8 526.3h2.8M165.7 525.7h2.8M162.9 525.5h2.8M156.1 525.8h2.8M156.2 525.9h2.8M157.3 525.9h2.8M162.4 526.2h2.8M150.7 525.7h2.8M149.7 525.8h2.8M154.3 527.0h2.8M162.6 527.5h2.8M150.3 526.8h2.8M156.5 526.5h2.8M159.4 526.5h2.8M158.4 527.1h2.8M153.2 527.5h2.8M151.5 526.5h2.8M146.5 526.7h2.8M161.9 527.2h2.8M152.5 527.4h2.8M147.9 526.7h2.8M157.8 528.0h2.8M163.2 527.8h2.8M165.9 528.1h2.8M160.7 528.1h2.8M149.1 528.1h2.8M166.9 527.5h2.8M152.0 527.8h2.8M150.1 528.3h2.8M159.7 527.6h2.8M161.1 528.4h2.8M145.5 527.5h2.8M158.6 528.4h2.8M157.3 529.0h2.8M153.8 529.1h2.8M166.2 529.1h2.8M162.1 529.0h2.8M165.5 529.3h2.8M156.3 528.8h2.8M151.2 529.5h2.8M159.5 528.6h2.8M156.6 528.9h2.8M158.5 528.8h2.8M166.0 529.0h2.8M164.1 528.8h2.8M165.6 530.0h2.8M157.2 529.9h2.8M166.9 530.1h2.8M156.9 529.9h2.8M155.1 529.8h2.8M154.8 529.8h2.8M145.8 529.9h2.8M144.6 530.2h2.8M146.2 530.4h2.8M151.6 529.8h2.8M157.3 529.8h2.8M161.6 529.8h2.8M166.4 530.5h2.8M145.3 531.4h2.8M160.7 530.8h2.8M159.6 530.9h2.8M156.3 530.8h2.8M157.1 531.1h2.8M164.5 530.8h2.8M157.8 531.1h2.8M165.2 531.0h2.8M165.0 531.4h2.8M153.9 530.9h2.8M167.5 531.1h2.8M156.8 532.3h2.8M158.6 532.0h2.8M160.0 531.8h2.8M153.1 531.5h2.8M161.5 532.3h2.8M161.9 532.5h2.8M162.3 531.6h2.8M151.7 532.4h2.8M146.5 532.4h2.8M163.3 531.6h2.8M149.0 532.2h2.8M159.8 531.5h2.8M156.8 532.7h2.8M164.8 533.0h2.8M144.2 532.9h2.8M144.2 533.4h2.8M165.5 533.2h2.8M144.0 533.4h2.8M150.3 533.2h2.8M162.5 533.1h2.8M146.7 532.7h2.8M161.7 532.6h2.8M153.1 533.4h2.8M153.9 532.7h2.8" stroke="#c8283a" stroke-width="1.0" fill="none"/>
<polygon points="150.5,451.0 149.7,452.0 148.9,453.0 148.1,454.0 147.3,455.0 146.5,456.0 146.0,457.0 145.5,458.0 145.0,459.0 144.5,460.0 144.0,461.0 144.0,461.0 171.0,461.0 171.0,461.0 170.5,460.0 170.0,459.0 169.5,458.0 169.0,457.0 168.5,456.0 167.7,455.0 166.9,454.0 166.1,453.0 165.3,452.0 164.5,451.0" fill="#eab0b8"/>
<path d="M157.8 450.8h2.8M159.3 450.9h2.8M159.8 451.3h2.8M152.5 451.0h2.8M155.5 450.6h2.8M160.7 450.8h2.8M157.5 451.6h2.8M161.9 452.5h2.8M158.5 451.6h2.8M158.2 452.0h2.8M155.8 451.7h2.8M151.6 452.3h2.8M157.4 452.2h2.8M159.5 452.9h2.8M156.8 452.8h2.8M158.3 452.9h2.8M160.2 452.8h2.8M154.4 452.6h2.8M149.5 452.7h2.8M149.1 452.9h2.8M154.4 453.4h2.8M148.8 454.5h2.8M149.6 454.3h2.8M153.8 453.7h2.8M157.9 453.9h2.8M148.4 453.6h2.8M159.0 454.2h2.8M164.0 453.8h2.8M160.4 453.8h2.8M156.4 454.8h2.8M154.5 455.4h2.8M151.7 454.9h2.8M163.3 455.0h2.8M161.6 455.0h2.8M153.5 455.2h2.8M158.8 454.9h2.8M164.9 454.6h2.8M162.3 455.2h2.8M160.1 456.0h2.8M160.9 455.5h2.8M159.4 456.4h2.8M154.3 456.2h2.8M159.9 456.0h2.8M161.3 456.0h2.8M148.8 456.0h2.8M161.0 455.7h2.8M155.4 456.3h2.8M146.8 456.4h2.8M153.1 456.9h2.8M160.1 457.1h2.8M151.8 456.7h2.8M154.5 457.4h2.8M166.1 457.2h2.8M160.1 457.2h2.8M164.5 456.7h2.8M148.9 457.3h2.8M146.4 457.0h2.8M154.1 457.4h2.8M158.7 457.7h2.8M146.9 458.0h2.8M157.2 458.0h2.8M157.8 457.6h2.8M153.1 458.3h2.8M151.6 457.7h2.8M149.3 458.4h2.8M163.9 457.9h2.8M152.5 457.9h2.8M164.2 458.4h2.8M165.7 458.4h2.8M160.1 458.6h2.8M165.9 458.7h2.8M161.4 458.9h2.8M145.8 459.2h2.8M150.7 459.4h2.8M149.0 459.2h2.8M154.7 458.5h2.8M151.3 458.8h2.8M162.2 459.3h2.8M165.8 458.7h2.8M149.7 458.9h2.8M151.9 459.7h2.8M162.0 459.5h2.8M157.0 459.6h2.8M151.8 459.8h2.8M155.2 460.4h2.8M161.6 459.9h2.8M167.5 459.8h2.8M148.9 460.1h2.8M162.4 460.2h2.8M156.3 460.2h2.8M152.2 460.4h2.8" stroke="#c8283a" stroke-width="1.0" fill="none"/>
<line x1="157.50" y1="474.00" x2="157.50" y2="517.60" stroke="#3a2020" stroke-width="0.9"/>
<line x1="143.00" y1="495.60" x2="172.00" y2="495.60" stroke="#3a2020" stroke-width="1.4"/>
<line x1="150.30" y1="474.00" x2="164.70" y2="474.00" stroke="#3a2020" stroke-width="1.1"/>
<line x1="150.30" y1="517.60" x2="164.70" y2="517.60" stroke="#3a2020" stroke-width="1.1"/>
<rect x="285.00" y="292.00" width="13.00" height="11.00" fill="#d9d9d9"/>
<rect x="285.00" y="304.00" width="13.00" height="12.00" fill="#d9d9d9"/>
<rect x="299.00" y="304.00" width="43.00" height="12.00" fill="#d9d9d9"/>
<rect x="285.00" y="317.00" width="13.00" height="11.00" fill="#d9d9d9"/>
<rect x="299.00" y="317.00" width="43.00" height="11.00" fill="#d9d9d9"/>
<rect x="343.00" y="317.00" width="43.00" height="11.00" fill="#d9d9d9"/>
<rect x="285.00" y="329.00" width="13.00" height="11.00" fill="#d9d9d9"/>
<rect x="299.00" y="329.00" width="43.00" height="11.00" fill="#d9d9d9"/>
<rect x="343.00" y="329.00" width="43.00" height="11.00" fill="#d9d9d9"/>
<rect x="387.00" y="329.00" width="43.00" height="11.00" fill="#d9d9d9"/>
<line x1="216.50" y1="279.00" x2="216.50" y2="341.00" stroke="#2a2a2a" stroke-width="1.0"/>
<line x1="284.50" y1="279.00" x2="284.50" y2="341.00" stroke="#2a2a2a" stroke-width="1.0"/>
<line x1="298.50" y1="279.00" x2="298.50" y2="341.00" stroke="#2a2a2a" stroke-width="1.0"/>
<line x1="342.50" y1="279.00" x2="342.50" y2="341.00" stroke="#2a2a2a" stroke-width="1.0"/>
<line x1="386.50" y1="279.00" x2="386.50" y2="341.00" stroke="#2a2a2a" stroke-width="1.0"/>
<line x1="430.50" y1="279.00" x2="430.50" y2="341.00" stroke="#2a2a2a" stroke-width="1.0"/>
<line x1="473.50" y1="279.00" x2="473.50" y2="341.00" stroke="#2a2a2a" stroke-width="1.0"/>
<line x1="216.00" y1="279.50" x2="474.00" y2="279.50" stroke="#2a2a2a" stroke-width="1.0"/>
<line x1="216.00" y1="291.50" x2="474.00" y2="291.50" stroke="#2a2a2a" stroke-width="1.0"/>
<line x1="216.00" y1="303.50" x2="474.00" y2="303.50" stroke="#2a2a2a" stroke-width="1.0"/>
<line x1="216.00" y1="316.50" x2="474.00" y2="316.50" stroke="#2a2a2a" stroke-width="1.0"/>
<line x1="216.00" y1="328.50" x2="474.00" y2="328.50" stroke="#2a2a2a" stroke-width="1.0"/>
<line x1="216.00" y1="340.50" x2="474.00" y2="340.50" stroke="#2a2a2a" stroke-width="1.0"/>
<text x="250.05" y="288.12" font-family="'Liberation Sans', sans-serif" font-size="7.0" font-weight="bold" text-anchor="middle" fill="#151515" stroke="#151515" stroke-width="0.15">Mann Whitney Test</text>
<text x="291.35" y="287.94" font-family="'Liberation Sans', sans-serif" font-size="6.5" font-weight="bold" text-anchor="middle" fill="#151515" stroke="#151515" stroke-width="0.15">I</text>
<text x="320.75" y="287.94" font-family="'Liberation Sans', sans-serif" font-size="6.5" font-weight="bold" text-anchor="middle" fill="#151515" stroke="#151515" stroke-width="0.15">II</text>
<text x="364.65" y="287.94" font-family="'Liberation Sans', sans-serif" font-size="6.5" font-weight="bold" text-anchor="middle" fill="#151515" stroke="#151515" stroke-width="0.15">III</text>
<text x="408.30" y="287.94" font-family="'Liberation Sans', sans-serif" font-size="6.5" font-weight="bold" text-anchor="middle" fill="#151515" stroke="#151515" stroke-width="0.15">IV</text>
<text x="451.75" y="287.94" font-family="'Liberation Sans', sans-serif" font-size="6.5" font-weight="bold" text-anchor="middle" fill="#151515" stroke="#151515" stroke-width="0.15">Rest</text>
<text x="250.05" y="300.11" font-family="'Liberation Sans', sans-serif" font-size="6.7" font-weight="normal" text-anchor="middle" fill="#151515" stroke="#151515" stroke-width="0.15">I</text>
<text x="320.75" y="300.11" font-family="'Liberation Sans', sans-serif" font-size="6.7" font-weight="normal" text-anchor="middle" fill="#151515" stroke="#151515" stroke-width="0.15">1.92 x 10−1</text>
<text x="364.65" y="300.11" font-family="'Liberation Sans', sans-serif" font-size="6.7" font-weight="normal" text-anchor="middle" fill="#151515" stroke="#151515" stroke-width="0.15">6.92 x 10−4</text>
<text x="408.30" y="300.11" font-family="'Liberation Sans', sans-serif" font-size="6.7" font-weight="normal" text-anchor="middle" fill="#151515" stroke="#151515" stroke-width="0.15">3.47 x 10−4</text>
<text x="451.75" y="300.11" font-family="'Liberation Sans', sans-serif" font-size="6.7" font-weight="normal" text-anchor="middle" fill="#151515" stroke="#151515" stroke-width="0.15">4.77 x 10−3</text>
<text x="250.05" y="312.51" font-family="'Liberation Sans', sans-serif" font-size="6.7" font-weight="normal" text-anchor="middle" fill="#151515" stroke="#151515" stroke-width="0.15">II</text>
<text x="364.65" y="312.51" font-family="'Liberation Sans', sans-serif" font-size="6.7" font-weight="normal" text-anchor="middle" fill="#151515" stroke="#151515" stroke-width="0.15">3.47 x 10−5</text>
<text x="408.30" y="312.51" font-family="'Liberation Sans', sans-serif" font-size="6.7" font-weight="normal" text-anchor="middle" fill="#151515" stroke="#151515" stroke-width="0.15">1.76 x 10−5</text>
<text x="451.75" y="312.51" font-family="'Liberation Sans', sans-serif" font-size="6.7" font-weight="normal" text-anchor="middle" fill="#151515" stroke="#151515" stroke-width="0.15">1.68 x 10−4</text>
<text x="250.05" y="324.96" font-family="'Liberation Sans', sans-serif" font-size="6.7" font-weight="normal" text-anchor="middle" fill="#151515" stroke="#151515" stroke-width="0.15">III</text>
<text x="408.30" y="324.96" font-family="'Liberation Sans', sans-serif" font-size="6.7" font-weight="normal" text-anchor="middle" fill="#151515" stroke="#151515" stroke-width="0.15">2.03 x 10−1</text>
<text x="451.75" y="324.96" font-family="'Liberation Sans', sans-serif" font-size="6.7" font-weight="normal" text-anchor="middle" fill="#151515" stroke="#151515" stroke-width="0.15">3.01 x 10−4</text>
<text x="250.05" y="336.96" font-family="'Liberation Sans', sans-serif" font-size="6.7" font-weight="normal" text-anchor="middle" fill="#151515" stroke="#151515" stroke-width="0.15">IV</text>
<text x="451.75" y="336.96" font-family="'Liberation Sans', sans-serif" font-size="6.7" font-weight="normal" text-anchor="middle" fill="#151515" stroke="#151515" stroke-width="0.15">9.25 x 10−3</text>
<rect x="217.00" y="345.00" width="230.00" height="12.00" fill="#c6c6c6"/>
<rect x="217.00" y="370.00" width="230.00" height="12.00" fill="#e6e6e6"/>
<rect x="217.00" y="395.00" width="230.00" height="12.00" fill="#e6e6e6"/>
<line x1="216.50" y1="344.00" x2="216.50" y2="408.00" stroke="#3a3a3a" stroke-width="1.0"/>
<line x1="287.50" y1="344.00" x2="287.50" y2="408.00" stroke="#3a3a3a" stroke-width="1.0"/>
<line x1="327.50" y1="344.00" x2="327.50" y2="408.00" stroke="#3a3a3a" stroke-width="1.0"/>
<line x1="367.50" y1="344.00" x2="367.50" y2="408.00" stroke="#3a3a3a" stroke-width="1.0"/>
<line x1="407.50" y1="344.00" x2="407.50" y2="408.00" stroke="#3a3a3a" stroke-width="1.0"/>
<line x1="447.50" y1="344.00" x2="447.50" y2="408.00" stroke="#3a3a3a" stroke-width="1.0"/>
<line x1="216.00" y1="344.50" x2="448.00" y2="344.50" stroke="#3a3a3a" stroke-width="1.0"/>
<line x1="216.00" y1="357.50" x2="448.00" y2="357.50" stroke="#3a3a3a" stroke-width="1.0"/>
<line x1="216.00" y1="369.50" x2="448.00" y2="369.50" stroke="#3a3a3a" stroke-width="1.0"/>
<line x1="216.00" y1="382.50" x2="448.00" y2="382.50" stroke="#3a3a3a" stroke-width="1.0"/>
<line x1="216.00" y1="394.50" x2="448.00" y2="394.50" stroke="#3a3a3a" stroke-width="1.0"/>
<line x1="216.00" y1="407.50" x2="448.00" y2="407.50" stroke="#3a3a3a" stroke-width="1.0"/>
<rect x="216.00" y="344.00" width="233.00" height="2.00" fill="#4a4a4a"/>
<rect x="447.00" y="344.00" width="2.00" height="65.00" fill="#5a5a5a"/>
<rect x="216.00" y="407.00" width="233.00" height="1.50" fill="#4a4a4a"/>
<rect x="216.00" y="344.00" width="1.30" height="64.00" fill="#4a4a4a"/>
<text x="217.70" y="353.55" font-family="'Liberation Sans', sans-serif" font-size="6.95" font-weight="bold" text-anchor="start" fill="#151515" stroke="#151515" stroke-width="0.15">Description/Stage</text>
<text x="307.70" y="353.39" font-family="'Liberation Sans', sans-serif" font-size="6.5" font-weight="bold" text-anchor="middle" fill="#151515" stroke="#151515" stroke-width="0.15">I</text>
<text x="347.50" y="353.39" font-family="'Liberation Sans', sans-serif" font-size="6.5" font-weight="bold" text-anchor="middle" fill="#151515" stroke="#151515" stroke-width="0.15">II</text>
<text x="387.50" y="353.39" font-family="'Liberation Sans', sans-serif" font-size="6.5" font-weight="bold" text-anchor="middle" fill="#151515" stroke="#151515" stroke-width="0.15">III</text>
<text x="427.45" y="353.39" font-family="'Liberation Sans', sans-serif" font-size="6.5" font-weight="bold" text-anchor="middle" fill="#151515" stroke="#151515" stroke-width="0.15">IV</text>
<text x="218.00" y="365.91" font-family="'Liberation Sans', sans-serif" font-size="6.7" font-weight="normal" text-anchor="start" fill="#151515" stroke="#151515" stroke-width="0.15">Mean</text>
<text x="307.70" y="365.91" font-family="'Liberation Sans', sans-serif" font-size="6.7" font-weight="normal" text-anchor="middle" fill="#151515" stroke="#151515" stroke-width="0.15">7.447</text>
<text x="347.50" y="365.91" font-family="'Liberation Sans', sans-serif" font-size="6.7" font-weight="normal" text-anchor="middle" fill="#151515" stroke="#151515" stroke-width="0.15">7.206</text>
<text x="387.50" y="365.91" font-family="'Liberation Sans', sans-serif" font-size="6.7" font-weight="normal" text-anchor="middle" fill="#151515" stroke="#151515" stroke-width="0.15">7.785</text>
<text x="427.45" y="365.91" font-family="'Liberation Sans', sans-serif" font-size="6.7" font-weight="normal" text-anchor="middle" fill="#151515" stroke="#151515" stroke-width="0.15">7.936</text>
<text x="218.00" y="378.56" font-family="'Liberation Sans', sans-serif" font-size="6.7" font-weight="normal" text-anchor="start" fill="#151515" stroke="#151515" stroke-width="0.15">Quantile 1</text>
<text x="307.70" y="378.56" font-family="'Liberation Sans', sans-serif" font-size="6.7" font-weight="normal" text-anchor="middle" fill="#151515" stroke="#151515" stroke-width="0.15">5.840</text>
<text x="347.50" y="378.56" font-family="'Liberation Sans', sans-serif" font-size="6.7" font-weight="normal" text-anchor="middle" fill="#151515" stroke="#151515" stroke-width="0.15">5.532</text>
<text x="387.50" y="378.56" font-family="'Liberation Sans', sans-serif" font-size="6.7" font-weight="normal" text-anchor="middle" fill="#151515" stroke="#151515" stroke-width="0.15">6.319</text>
<text x="427.45" y="378.56" font-family="'Liberation Sans', sans-serif" font-size="6.7" font-weight="normal" text-anchor="middle" fill="#151515" stroke="#151515" stroke-width="0.15">6.615</text>
<text x="218.00" y="391.01" font-family="'Liberation Sans', sans-serif" font-size="6.7" font-weight="normal" text-anchor="start" fill="#151515" stroke="#151515" stroke-width="0.15">Median</text>
<text x="307.70" y="391.01" font-family="'Liberation Sans', sans-serif" font-size="6.7" font-weight="normal" text-anchor="middle" fill="#151515" stroke="#151515" stroke-width="0.15">7.151</text>
<text x="347.50" y="391.01" font-family="'Liberation Sans', sans-serif" font-size="6.7" font-weight="normal" text-anchor="middle" fill="#151515" stroke="#151515" stroke-width="0.15">6.892</text>
<text x="387.50" y="391.01" font-family="'Liberation Sans', sans-serif" font-size="6.7" font-weight="normal" text-anchor="middle" fill="#151515" stroke="#151515" stroke-width="0.15">7.713</text>
<text x="427.45" y="391.01" font-family="'Liberation Sans', sans-serif" font-size="6.7" font-weight="normal" text-anchor="middle" fill="#151515" stroke="#151515" stroke-width="0.15">7.894</text>
<text x="218.00" y="403.31" font-family="'Liberation Sans', sans-serif" font-size="6.7" font-weight="normal" text-anchor="start" fill="#151515" stroke="#151515" stroke-width="0.15">Quantile 4</text>
<text x="307.70" y="403.31" font-family="'Liberation Sans', sans-serif" font-size="6.7" font-weight="normal" text-anchor="middle" fill="#151515" stroke="#151515" stroke-width="0.15">8.714</text>
<text x="347.50" y="403.31" font-family="'Liberation Sans', sans-serif" font-size="6.7" font-weight="normal" text-anchor="middle" fill="#151515" stroke="#151515" stroke-width="0.15">8.647</text>
<text x="387.50" y="403.31" font-family="'Liberation Sans', sans-serif" font-size="6.7" font-weight="normal" text-anchor="middle" fill="#151515" stroke="#151515" stroke-width="0.15">9.213</text>
<text x="427.45" y="403.31" font-family="'Liberation Sans', sans-serif" font-size="6.7" font-weight="normal" text-anchor="middle" fill="#151515" stroke="#151515" stroke-width="0.15">9.284</text>
<rect x="291.00" y="431.00" width="32.00" height="13.00" fill="#d9d9d9"/>
<rect x="291.00" y="445.00" width="32.00" height="14.00" fill="#d9d9d9"/>
<rect x="324.00" y="445.00" width="45.00" height="14.00" fill="#d9d9d9"/>
<rect x="291.00" y="460.00" width="32.00" height="15.00" fill="#d9d9d9"/>
<rect x="324.00" y="460.00" width="45.00" height="15.00" fill="#d9d9d9"/>
<rect x="370.00" y="460.00" width="43.00" height="15.00" fill="#d9d9d9"/>
<line x1="216.50" y1="416.00" x2="216.50" y2="476.00" stroke="#2a2a2a" stroke-width="1.0"/>
<line x1="290.50" y1="416.00" x2="290.50" y2="476.00" stroke="#2a2a2a" stroke-width="1.0"/>
<line x1="323.50" y1="416.00" x2="323.50" y2="476.00" stroke="#2a2a2a" stroke-width="1.0"/>
<line x1="369.50" y1="416.00" x2="369.50" y2="476.00" stroke="#2a2a2a" stroke-width="1.0"/>
<line x1="413.50" y1="416.00" x2="413.50" y2="476.00" stroke="#2a2a2a" stroke-width="1.0"/>
<line x1="456.50" y1="416.00" x2="456.50" y2="476.00" stroke="#2a2a2a" stroke-width="1.0"/>
<line x1="216.00" y1="416.50" x2="457.00" y2="416.50" stroke="#2a2a2a" stroke-width="1.0"/>
<line x1="216.00" y1="430.50" x2="457.00" y2="430.50" stroke="#2a2a2a" stroke-width="1.0"/>
<line x1="216.00" y1="444.50" x2="457.00" y2="444.50" stroke="#2a2a2a" stroke-width="1.0"/>
<line x1="216.00" y1="459.50" x2="457.00" y2="459.50" stroke="#2a2a2a" stroke-width="1.0"/>
<line x1="216.00" y1="475.50" x2="457.00" y2="475.50" stroke="#2a2a2a" stroke-width="1.0"/>
<text x="253.20" y="425.67" font-family="'Liberation Sans', sans-serif" font-size="7.0" font-weight="bold" text-anchor="middle" fill="#151515" stroke="#151515" stroke-width="0.15">Mann Whitney Test</text>
<text x="307.15" y="425.53" font-family="'Liberation Sans', sans-serif" font-size="6.6" font-weight="bold" text-anchor="middle" fill="#151515" stroke="#151515" stroke-width="0.15">Grade 1</text>
<text x="346.50" y="425.53" font-family="'Liberation Sans', sans-serif" font-size="6.6" font-weight="bold" text-anchor="middle" fill="#151515" stroke="#151515" stroke-width="0.15">Grade 2</text>
<text x="391.45" y="425.53" font-family="'Liberation Sans', sans-serif" font-size="6.6" font-weight="bold" text-anchor="middle" fill="#151515" stroke="#151515" stroke-width="0.15">Grade 3</text>
<text x="435.05" y="425.53" font-family="'Liberation Sans', sans-serif" font-size="6.6" font-weight="bold" text-anchor="middle" fill="#151515" stroke="#151515" stroke-width="0.15">Rest</text>
<text x="217.20" y="439.96" font-family="'Liberation Sans', sans-serif" font-size="6.7" font-weight="normal" text-anchor="start" fill="#151515" stroke="#151515" stroke-width="0.15">Grade 1</text>
<text x="325.10" y="439.96" font-family="'Liberation Sans', sans-serif" font-size="6.7" font-weight="normal" text-anchor="start" fill="#151515" stroke="#151515" stroke-width="0.15">1.14&#160; x 10−3</text>
<text x="370.30" y="439.96" font-family="'Liberation Sans', sans-serif" font-size="6.7" font-weight="normal" text-anchor="start" fill="#151515" stroke="#151515" stroke-width="0.15">1.27&#160; x 10−4</text>
<text x="415.00" y="439.96" font-family="'Liberation Sans', sans-serif" font-size="6.7" font-weight="normal" text-anchor="start" fill="#151515" stroke="#151515" stroke-width="0.15">3.67&#160; x 10−4</text>
<text x="217.20" y="454.66" font-family="'Liberation Sans', sans-serif" font-size="6.7" font-weight="normal" text-anchor="start" fill="#151515" stroke="#151515" stroke-width="0.15">Grade 2</text>
<text x="370.30" y="454.66" font-family="'Liberation Sans', sans-serif" font-size="6.7" font-weight="normal" text-anchor="start" fill="#151515" stroke="#151515" stroke-width="0.15">4.21&#160; x 10−1</text>
<text x="415.00" y="454.66" font-family="'Liberation Sans', sans-serif" font-size="6.7" font-weight="normal" text-anchor="start" fill="#151515" stroke="#151515" stroke-width="0.15">7.61&#160; x 10−1</text>
<text x="217.20" y="469.71" font-family="'Liberation Sans', sans-serif" font-size="6.7" font-weight="normal" text-anchor="start" fill="#151515" stroke="#151515" stroke-width="0.15">Grade 3</text>
<text x="415.00" y="469.71" font-family="'Liberation Sans', sans-serif" font-size="6.7" font-weight="normal" text-anchor="start" fill="#151515" stroke="#151515" stroke-width="0.15">3.48&#160; x 10−3</text>
<rect x="217.00" y="480.00" width="190.00" height="15.00" fill="#c6c6c6"/>
<rect x="217.00" y="508.00" width="190.00" height="12.00" fill="#e6e6e6"/>
<rect x="217.00" y="533.00" width="190.00" height="11.00" fill="#e6e6e6"/>
<line x1="216.50" y1="479.00" x2="216.50" y2="545.00" stroke="#3a3a3a" stroke-width="1.0"/>
<line x1="288.50" y1="479.00" x2="288.50" y2="545.00" stroke="#3a3a3a" stroke-width="1.0"/>
<line x1="328.50" y1="479.00" x2="328.50" y2="545.00" stroke="#3a3a3a" stroke-width="1.0"/>
<line x1="368.50" y1="479.00" x2="368.50" y2="545.00" stroke="#3a3a3a" stroke-width="1.0"/>
<line x1="407.50" y1="479.00" x2="407.50" y2="545.00" stroke="#3a3a3a" stroke-width="1.0"/>
<line x1="216.00" y1="479.50" x2="408.00" y2="479.50" stroke="#3a3a3a" stroke-width="1.0"/>
<line x1="216.00" y1="495.50" x2="408.00" y2="495.50" stroke="#3a3a3a" stroke-width="1.0"/>
<line x1="216.00" y1="507.50" x2="408.00" y2="507.50" stroke="#3a3a3a" stroke-width="1.0"/>
<line x1="216.00" y1="520.50" x2="408.00" y2="520.50" stroke="#3a3a3a" stroke-width="1.0"/>
<line x1="216.00" y1="532.50" x2="408.00" y2="532.50" stroke="#3a3a3a" stroke-width="1.0"/>
<line x1="216.00" y1="544.50" x2="408.00" y2="544.50" stroke="#3a3a3a" stroke-width="1.0"/>
<rect x="216.00" y="479.00" width="193.00" height="2.00" fill="#4a4a4a"/>
<rect x="407.00" y="479.00" width="2.00" height="67.00" fill="#5a5a5a"/>
<rect x="216.00" y="544.00" width="193.00" height="1.50" fill="#4a4a4a"/>
<rect x="216.00" y="479.00" width="1.30" height="66.00" fill="#4a4a4a"/>
<text x="217.80" y="490.25" font-family="'Liberation Sans', sans-serif" font-size="6.95" font-weight="bold" text-anchor="start" fill="#151515" stroke="#151515" stroke-width="0.15">Description\Grade</text>
<text x="308.40" y="490.23" font-family="'Liberation Sans', sans-serif" font-size="6.9" font-weight="bold" text-anchor="middle" fill="#151515" stroke="#151515" stroke-width="0.15">Grade 1</text>
<text x="348.35" y="490.23" font-family="'Liberation Sans', sans-serif" font-size="6.9" font-weight="bold" text-anchor="middle" fill="#151515" stroke="#151515" stroke-width="0.15">Grade 2</text>
<text x="388.00" y="490.23" font-family="'Liberation Sans', sans-serif" font-size="6.9" font-weight="bold" text-anchor="middle" fill="#151515" stroke="#151515" stroke-width="0.15">Grade 3</text>
<text x="217.60" y="503.86" font-family="'Liberation Sans', sans-serif" font-size="6.7" font-weight="normal" text-anchor="start" fill="#151515" stroke="#151515" stroke-width="0.15">Mean</text>
<text x="289.90" y="503.86" font-family="'Liberation Sans', sans-serif" font-size="6.7" font-weight="normal" text-anchor="start" fill="#151515" stroke="#151515" stroke-width="0.15">7.129</text>
<text x="329.50" y="503.86" font-family="'Liberation Sans', sans-serif" font-size="6.7" font-weight="normal" text-anchor="start" fill="#151515" stroke="#151515" stroke-width="0.15">7.703</text>
<text x="369.80" y="503.86" font-family="'Liberation Sans', sans-serif" font-size="6.7" font-weight="normal" text-anchor="start" fill="#151515" stroke="#151515" stroke-width="0.15">7.776</text>
<text x="217.60" y="516.26" font-family="'Liberation Sans', sans-serif" font-size="6.7" font-weight="normal" text-anchor="start" fill="#151515" stroke="#151515" stroke-width="0.15">Quantile 1</text>
<text x="289.90" y="516.26" font-family="'Liberation Sans', sans-serif" font-size="6.7" font-weight="normal" text-anchor="start" fill="#151515" stroke="#151515" stroke-width="0.15">5.599</text>
<text x="329.50" y="516.26" font-family="'Liberation Sans', sans-serif" font-size="6.7" font-weight="normal" text-anchor="start" fill="#151515" stroke="#151515" stroke-width="0.15">6.273</text>
<text x="369.80" y="516.26" font-family="'Liberation Sans', sans-serif" font-size="6.7" font-weight="normal" text-anchor="start" fill="#151515" stroke="#151515" stroke-width="0.15">6.265</text>
<text x="217.60" y="528.76" font-family="'Liberation Sans', sans-serif" font-size="6.7" font-weight="normal" text-anchor="start" fill="#151515" stroke="#151515" stroke-width="0.15">Median</text>
<text x="289.90" y="528.76" font-family="'Liberation Sans', sans-serif" font-size="6.7" font-weight="normal" text-anchor="start" fill="#151515" stroke="#151515" stroke-width="0.15">6.742</text>
<text x="329.50" y="528.76" font-family="'Liberation Sans', sans-serif" font-size="6.7" font-weight="normal" text-anchor="start" fill="#151515" stroke="#151515" stroke-width="0.15">7.526</text>
<text x="369.80" y="528.76" font-family="'Liberation Sans', sans-serif" font-size="6.7" font-weight="normal" text-anchor="start" fill="#151515" stroke="#151515" stroke-width="0.15">7.755</text>
<text x="217.60" y="541.11" font-family="'Liberation Sans', sans-serif" font-size="6.7" font-weight="normal" text-anchor="start" fill="#151515" stroke="#151515" stroke-width="0.15">Quantile 4</text>
<text x="289.90" y="541.11" font-family="'Liberation Sans', sans-serif" font-size="6.7" font-weight="normal" text-anchor="start" fill="#151515" stroke="#151515" stroke-width="0.15">8.198</text>
<text x="329.50" y="541.11" font-family="'Liberation Sans', sans-serif" font-size="6.7" font-weight="normal" text-anchor="start" fill="#151515" stroke="#151515" stroke-width="0.15">9.048</text>
<text x="369.80" y="541.11" font-family="'Liberation Sans', sans-serif" font-size="6.7" font-weight="normal" text-anchor="start" fill="#151515" stroke="#151515" stroke-width="0.15">9.212</text>
</svg>
</body></html>
